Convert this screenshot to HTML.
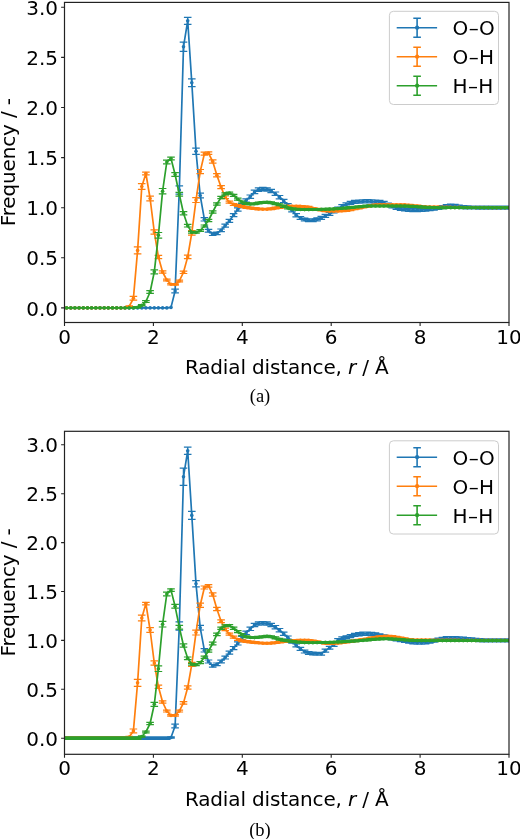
<!DOCTYPE html>
<html><head><meta charset="utf-8"><title>Radial distribution functions</title>
<style>
html,body{margin:0;padding:0;background:#fff;}
svg{display:block;}
</style></head>
<body>
<svg width="520" height="839" viewBox="0 0 520 839" font-family="'DejaVu Sans', 'Liberation Sans', sans-serif" font-size="20" fill="#000">
<rect width="520" height="839" fill="#fff"/>
<clipPath id="clip2"><rect x="64.5" y="2.4" width="444.5" height="320.1"/></clipPath>
<g clip-path="url(#clip2)">
<polyline points="66.6,307.9 70.8,307.9 74.9,307.9 79.1,307.9 83.3,307.9 87.5,307.9 91.6,307.9 95.8,307.9 100.0,307.9 104.2,307.9 108.3,307.9 112.5,307.9 116.7,307.9 120.9,307.9 125.0,307.9 129.2,307.9 133.4,307.9 137.6,307.9 141.8,307.9 145.9,307.9 150.1,307.9 154.3,307.9 158.4,307.9 162.6,307.9 166.8,307.9 171.0,307.4 175.1,291.0 179.3,190.0 183.5,46.7 187.7,20.8 191.8,82.7 196.0,151.3 200.2,195.5 204.4,219.3 208.5,230.7 212.7,234.2 216.9,233.3 221.1,230.3 225.2,225.6 229.4,220.8 233.6,215.1 237.8,209.5 241.9,204.9 246.1,200.5 250.3,196.6 254.5,192.0 258.6,189.6 262.8,189.0 267.0,189.5 271.2,190.9 275.4,193.7 279.5,197.2 283.7,200.9 287.9,205.2 292.0,210.2 296.2,215.2 300.4,217.9 304.6,219.4 308.8,220.3 312.9,220.2 317.1,219.3 321.3,217.9 325.4,215.9 329.6,213.9 333.8,211.4 338.0,208.6 342.1,206.3 346.3,204.5 350.5,203.0 354.7,201.9 358.9,201.6 363.0,201.4 367.2,201.3 371.4,201.4 375.5,201.6 379.7,201.9 383.9,203.0 388.1,204.8 392.2,206.4 396.4,207.8 400.6,208.8 404.8,209.4 408.9,209.9 413.1,210.2 417.3,210.2 421.5,209.9 425.6,209.6 429.8,209.1 434.0,208.6 438.2,208.0 442.4,207.1 446.5,206.2 450.7,205.6 454.9,205.8 459.0,206.5 463.2,207.2 467.4,207.4 471.6,207.5 475.8,207.5 479.9,207.6 484.1,207.6 488.3,207.6 492.4,207.7 496.6,207.7 500.8,207.7 505.0,207.7 509.1,207.7" fill="none" stroke="#1f77b4" stroke-width="1.7" stroke-linejoin="round"/>
<path d="M175.1 289.1V292.9M179.3 185.9V194.1M183.5 42.1V51.3M187.7 17.3V24.3M191.8 78.8V86.6M196.0 148.2V154.4M200.2 193.2V197.8M204.4 217.6V221.0M208.5 229.3V232.1M212.7 232.9V235.5M216.9 232.0V234.6M221.1 229.0V231.7M225.2 224.2V227.1M229.4 219.3V222.3M233.6 213.6V216.7M237.8 207.9V211.1M241.9 203.3V206.6M246.1 198.9V202.2M250.3 195.0V198.3M254.5 190.2V193.7M258.6 187.9V191.3M262.8 187.3V190.7M267.0 187.8V191.1M271.2 189.3V192.6M275.4 192.0V195.3M279.5 195.5V198.9M283.7 199.3V202.6M287.9 203.6V206.8M292.0 208.6V211.8M296.2 213.7V216.8M300.4 216.5V219.4M304.6 218.0V220.8M308.8 218.9V221.7M312.9 218.8V221.6M317.1 217.9V220.8M321.3 216.4V219.3M325.4 214.4V217.4M329.6 212.4V215.4M333.8 209.9V213.0M338.0 207.1V210.2M342.1 204.7V207.8M346.3 202.9V206.0M350.5 201.4V204.5M354.7 200.3V203.5M358.9 200.0V203.1M363.0 199.8V202.9M367.2 199.7V202.9M371.4 199.8V202.9M375.5 200.0V203.1M379.7 200.3V203.5M383.9 201.4V204.6M388.1 203.2V206.3M392.2 204.8V207.9M396.4 206.3V209.3M400.6 207.3V210.3M404.8 207.9V210.9M408.9 208.4V211.4M413.1 208.7V211.6M417.3 208.7V211.6M421.5 208.5V211.4M425.6 208.1V211.1M429.8 207.6V210.6M434.0 207.1V210.1M438.2 206.5V209.5M442.4 205.5V208.6M446.5 204.6V207.7M450.7 204.1V207.2M454.9 204.3V207.3M459.0 205.0V208.0M463.2 205.7V208.7M467.4 205.9V208.9M471.6 206.0V209.0M475.8 206.0V209.0M479.9 206.1V209.1M484.1 206.1V209.1M488.3 206.1V209.1M492.4 206.2V209.2M496.6 206.2V209.2M500.8 206.2V209.2M505.0 206.2V209.2M509.1 206.2V209.2" stroke="#1f77b4" stroke-width="1.5" fill="none"/>
<path d="M171.3 289.1h7.6M171.3 292.9h7.6M175.5 185.9h7.6M175.5 194.1h7.6M179.7 42.1h7.6M179.7 51.3h7.6M183.9 17.3h7.6M183.9 24.3h7.6M188.0 78.8h7.6M188.0 86.6h7.6M192.2 148.2h7.6M192.2 154.4h7.6M196.4 193.2h7.6M196.4 197.8h7.6M200.6 217.6h7.6M200.6 221.0h7.6M204.7 229.3h7.6M204.7 232.1h7.6M208.9 232.9h7.6M208.9 235.5h7.6M213.1 232.0h7.6M213.1 234.6h7.6M217.3 229.0h7.6M217.3 231.7h7.6M221.4 224.2h7.6M221.4 227.1h7.6M225.6 219.3h7.6M225.6 222.3h7.6M229.8 213.6h7.6M229.8 216.7h7.6M234.0 207.9h7.6M234.0 211.1h7.6M238.1 203.3h7.6M238.1 206.6h7.6M242.3 198.9h7.6M242.3 202.2h7.6M246.5 195.0h7.6M246.5 198.3h7.6M250.7 190.2h7.6M250.7 193.7h7.6M254.8 187.9h7.6M254.8 191.3h7.6M259.0 187.3h7.6M259.0 190.7h7.6M263.2 187.8h7.6M263.2 191.1h7.6M267.4 189.3h7.6M267.4 192.6h7.6M271.6 192.0h7.6M271.6 195.3h7.6M275.7 195.5h7.6M275.7 198.9h7.6M279.9 199.3h7.6M279.9 202.6h7.6M284.1 203.6h7.6M284.1 206.8h7.6M288.2 208.6h7.6M288.2 211.8h7.6M292.4 213.7h7.6M292.4 216.8h7.6M296.6 216.5h7.6M296.6 219.4h7.6M300.8 218.0h7.6M300.8 220.8h7.6M304.9 218.9h7.6M304.9 221.7h7.6M309.1 218.8h7.6M309.1 221.6h7.6M313.3 217.9h7.6M313.3 220.8h7.6M317.5 216.4h7.6M317.5 219.3h7.6M321.6 214.4h7.6M321.6 217.4h7.6M325.8 212.4h7.6M325.8 215.4h7.6M330.0 209.9h7.6M330.0 213.0h7.6M334.2 207.1h7.6M334.2 210.2h7.6M338.3 204.7h7.6M338.3 207.8h7.6M342.5 202.9h7.6M342.5 206.0h7.6M346.7 201.4h7.6M346.7 204.5h7.6M350.9 200.3h7.6M350.9 203.5h7.6M355.1 200.0h7.6M355.1 203.1h7.6M359.2 199.8h7.6M359.2 202.9h7.6M363.4 199.7h7.6M363.4 202.9h7.6M367.6 199.8h7.6M367.6 202.9h7.6M371.7 200.0h7.6M371.7 203.1h7.6M375.9 200.3h7.6M375.9 203.5h7.6M380.1 201.4h7.6M380.1 204.6h7.6M384.3 203.2h7.6M384.3 206.3h7.6M388.4 204.8h7.6M388.4 207.9h7.6M392.6 206.3h7.6M392.6 209.3h7.6M396.8 207.3h7.6M396.8 210.3h7.6M401.0 207.9h7.6M401.0 210.9h7.6M405.1 208.4h7.6M405.1 211.4h7.6M409.3 208.7h7.6M409.3 211.6h7.6M413.5 208.7h7.6M413.5 211.6h7.6M417.7 208.5h7.6M417.7 211.4h7.6M421.8 208.1h7.6M421.8 211.1h7.6M426.0 207.6h7.6M426.0 210.6h7.6M430.2 207.1h7.6M430.2 210.1h7.6M434.4 206.5h7.6M434.4 209.5h7.6M438.6 205.5h7.6M438.6 208.6h7.6M442.7 204.6h7.6M442.7 207.7h7.6M446.9 204.1h7.6M446.9 207.2h7.6M451.1 204.3h7.6M451.1 207.3h7.6M455.2 205.0h7.6M455.2 208.0h7.6M459.4 205.7h7.6M459.4 208.7h7.6M463.6 205.9h7.6M463.6 208.9h7.6M467.8 206.0h7.6M467.8 209.0h7.6M471.9 206.0h7.6M471.9 209.0h7.6M476.1 206.1h7.6M476.1 209.1h7.6M480.3 206.1h7.6M480.3 209.1h7.6M484.5 206.1h7.6M484.5 209.1h7.6M488.6 206.2h7.6M488.6 209.2h7.6M492.8 206.2h7.6M492.8 209.2h7.6M497.0 206.2h7.6M497.0 209.2h7.6M501.2 206.2h7.6M501.2 209.2h7.6M505.3 206.2h7.6M505.3 209.2h7.6" stroke="#1f77b4" stroke-width="1.2" fill="none"/>
<g fill="#1f77b4"><circle cx="66.6" cy="307.9" r="1.8"/><circle cx="70.8" cy="307.9" r="1.8"/><circle cx="74.9" cy="307.9" r="1.8"/><circle cx="79.1" cy="307.9" r="1.8"/><circle cx="83.3" cy="307.9" r="1.8"/><circle cx="87.5" cy="307.9" r="1.8"/><circle cx="91.6" cy="307.9" r="1.8"/><circle cx="95.8" cy="307.9" r="1.8"/><circle cx="100.0" cy="307.9" r="1.8"/><circle cx="104.2" cy="307.9" r="1.8"/><circle cx="108.3" cy="307.9" r="1.8"/><circle cx="112.5" cy="307.9" r="1.8"/><circle cx="116.7" cy="307.9" r="1.8"/><circle cx="120.9" cy="307.9" r="1.8"/><circle cx="125.0" cy="307.9" r="1.8"/><circle cx="129.2" cy="307.9" r="1.8"/><circle cx="133.4" cy="307.9" r="1.8"/><circle cx="137.6" cy="307.9" r="1.8"/><circle cx="141.8" cy="307.9" r="1.8"/><circle cx="145.9" cy="307.9" r="1.8"/><circle cx="150.1" cy="307.9" r="1.8"/><circle cx="154.3" cy="307.9" r="1.8"/><circle cx="158.4" cy="307.9" r="1.8"/><circle cx="162.6" cy="307.9" r="1.8"/><circle cx="166.8" cy="307.9" r="1.8"/><circle cx="171.0" cy="307.4" r="1.8"/><circle cx="175.1" cy="291.0" r="1.8"/><circle cx="179.3" cy="190.0" r="1.8"/><circle cx="183.5" cy="46.7" r="1.8"/><circle cx="187.7" cy="20.8" r="1.8"/><circle cx="191.8" cy="82.7" r="1.8"/><circle cx="196.0" cy="151.3" r="1.8"/><circle cx="200.2" cy="195.5" r="1.8"/><circle cx="204.4" cy="219.3" r="1.8"/><circle cx="208.5" cy="230.7" r="1.8"/><circle cx="212.7" cy="234.2" r="1.8"/><circle cx="216.9" cy="233.3" r="1.8"/><circle cx="221.1" cy="230.3" r="1.8"/><circle cx="225.2" cy="225.6" r="1.8"/><circle cx="229.4" cy="220.8" r="1.8"/><circle cx="233.6" cy="215.1" r="1.8"/><circle cx="237.8" cy="209.5" r="1.8"/><circle cx="241.9" cy="204.9" r="1.8"/><circle cx="246.1" cy="200.5" r="1.8"/><circle cx="250.3" cy="196.6" r="1.8"/><circle cx="254.5" cy="192.0" r="1.8"/><circle cx="258.6" cy="189.6" r="1.8"/><circle cx="262.8" cy="189.0" r="1.8"/><circle cx="267.0" cy="189.5" r="1.8"/><circle cx="271.2" cy="190.9" r="1.8"/><circle cx="275.4" cy="193.7" r="1.8"/><circle cx="279.5" cy="197.2" r="1.8"/><circle cx="283.7" cy="200.9" r="1.8"/><circle cx="287.9" cy="205.2" r="1.8"/><circle cx="292.0" cy="210.2" r="1.8"/><circle cx="296.2" cy="215.2" r="1.8"/><circle cx="300.4" cy="217.9" r="1.8"/><circle cx="304.6" cy="219.4" r="1.8"/><circle cx="308.8" cy="220.3" r="1.8"/><circle cx="312.9" cy="220.2" r="1.8"/><circle cx="317.1" cy="219.3" r="1.8"/><circle cx="321.3" cy="217.9" r="1.8"/><circle cx="325.4" cy="215.9" r="1.8"/><circle cx="329.6" cy="213.9" r="1.8"/><circle cx="333.8" cy="211.4" r="1.8"/><circle cx="338.0" cy="208.6" r="1.8"/><circle cx="342.1" cy="206.3" r="1.8"/><circle cx="346.3" cy="204.5" r="1.8"/><circle cx="350.5" cy="203.0" r="1.8"/><circle cx="354.7" cy="201.9" r="1.8"/><circle cx="358.9" cy="201.6" r="1.8"/><circle cx="363.0" cy="201.4" r="1.8"/><circle cx="367.2" cy="201.3" r="1.8"/><circle cx="371.4" cy="201.4" r="1.8"/><circle cx="375.5" cy="201.6" r="1.8"/><circle cx="379.7" cy="201.9" r="1.8"/><circle cx="383.9" cy="203.0" r="1.8"/><circle cx="388.1" cy="204.8" r="1.8"/><circle cx="392.2" cy="206.4" r="1.8"/><circle cx="396.4" cy="207.8" r="1.8"/><circle cx="400.6" cy="208.8" r="1.8"/><circle cx="404.8" cy="209.4" r="1.8"/><circle cx="408.9" cy="209.9" r="1.8"/><circle cx="413.1" cy="210.2" r="1.8"/><circle cx="417.3" cy="210.2" r="1.8"/><circle cx="421.5" cy="209.9" r="1.8"/><circle cx="425.6" cy="209.6" r="1.8"/><circle cx="429.8" cy="209.1" r="1.8"/><circle cx="434.0" cy="208.6" r="1.8"/><circle cx="438.2" cy="208.0" r="1.8"/><circle cx="442.4" cy="207.1" r="1.8"/><circle cx="446.5" cy="206.2" r="1.8"/><circle cx="450.7" cy="205.6" r="1.8"/><circle cx="454.9" cy="205.8" r="1.8"/><circle cx="459.0" cy="206.5" r="1.8"/><circle cx="463.2" cy="207.2" r="1.8"/><circle cx="467.4" cy="207.4" r="1.8"/><circle cx="471.6" cy="207.5" r="1.8"/><circle cx="475.8" cy="207.5" r="1.8"/><circle cx="479.9" cy="207.6" r="1.8"/><circle cx="484.1" cy="207.6" r="1.8"/><circle cx="488.3" cy="207.6" r="1.8"/><circle cx="492.4" cy="207.7" r="1.8"/><circle cx="496.6" cy="207.7" r="1.8"/><circle cx="500.8" cy="207.7" r="1.8"/><circle cx="505.0" cy="207.7" r="1.8"/><circle cx="509.1" cy="207.7" r="1.8"/></g>
<polyline points="66.6,307.9 70.8,307.9 74.9,307.9 79.1,307.9 83.3,307.9 87.5,307.9 91.6,307.9 95.8,307.9 100.0,307.9 104.2,307.9 108.3,307.9 112.5,307.9 116.7,307.9 120.9,307.9 125.0,307.9 129.2,306.5 133.4,298.3 137.6,250.4 141.8,186.5 145.9,173.5 150.1,198.5 154.3,232.0 158.4,257.0 162.6,272.0 166.8,280.0 171.0,284.3 175.1,284.5 179.3,281.0 183.5,272.3 187.7,256.9 191.8,232.9 196.0,200.1 200.2,171.6 204.4,153.7 208.5,153.1 212.7,161.5 216.9,175.2 221.1,187.1 225.2,197.3 229.4,202.2 233.6,204.4 237.8,205.6 241.9,206.5 246.1,207.4 250.3,208.0 254.5,208.5 258.6,208.9 262.8,209.2 267.0,209.2 271.2,208.8 275.4,208.1 279.5,207.4 283.7,206.7 287.9,206.3 292.0,206.2 296.2,206.3 300.4,206.4 304.6,206.7 308.8,207.3 312.9,208.4 317.1,209.3 321.3,210.0 325.4,210.7 329.6,211.1 333.8,211.2 338.0,211.0 342.1,210.8 346.3,210.5 350.5,209.8 354.7,208.8 358.9,207.9 363.0,207.2 367.2,206.4 371.4,205.6 375.5,205.0 379.7,204.8 383.9,204.8 388.1,204.8 392.2,204.8 396.4,204.8 400.6,204.8 404.8,204.9 408.9,205.2 413.1,205.6 417.3,206.1 421.5,206.5 425.6,206.8 429.8,207.0 434.0,207.1 438.2,207.1 442.4,207.2 446.5,207.3 450.7,207.3 454.9,207.4 459.0,207.4 463.2,207.5 467.4,207.5 471.6,207.5 475.8,207.6 479.9,207.6 484.1,207.6 488.3,207.6 492.4,207.7 496.6,207.7 500.8,207.7 505.0,207.7 509.1,207.7" fill="none" stroke="#ff7f0e" stroke-width="1.7" stroke-linejoin="round"/>
<path d="M129.2 305.8V307.2M133.4 296.4V300.2M137.6 246.9V253.9M141.8 183.7V189.3M145.9 172.2V174.8M150.1 196.2V200.8M154.3 229.8V234.2M158.4 255.3V258.7M162.6 270.8V273.2M166.8 279.1V280.9M171.0 283.6V285.0M175.1 283.8V285.2M179.3 280.1V281.9M183.5 271.1V273.5M187.7 255.2V258.6M191.8 230.7V235.1M196.0 197.7V202.5M200.2 169.5V173.7M204.4 152.2V155.2M208.5 151.9V154.3M212.7 159.9V163.1M216.9 173.6V176.8M221.1 185.6V188.6M225.2 196.0V198.6M229.4 201.2V203.2M233.6 203.5V205.4M237.8 204.7V206.5M241.9 205.6V207.4M246.1 206.5V208.3M250.3 207.2V208.9M254.5 207.6V209.4M258.6 208.0V209.8M262.8 208.3V210.0M267.0 208.3V210.0M271.2 207.9V209.7M275.4 207.2V209.0M279.5 206.5V208.3M283.7 205.8V207.6M287.9 205.4V207.1M292.0 205.4V207.1M296.2 205.4V207.2M300.4 205.6V207.3M304.6 205.8V207.5M308.8 206.4V208.2M312.9 207.5V209.3M317.1 208.4V210.2M321.3 209.1V210.9M325.4 209.8V211.6M329.6 210.3V212.0M333.8 210.3V212.0M338.0 210.2V211.9M342.1 209.9V211.6M346.3 209.6V211.3M350.5 208.9V210.7M354.7 207.9V209.7M358.9 207.0V208.8M363.0 206.3V208.0M367.2 205.5V207.2M371.4 204.7V206.5M375.5 204.2V205.9M379.7 203.9V205.7M383.9 203.9V205.7M388.1 203.9V205.7M392.2 203.9V205.7M396.4 203.9V205.7M400.6 203.9V205.7M404.8 204.1V205.8M408.9 204.4V206.1M413.1 204.8V206.5M417.3 205.2V207.0M421.5 205.6V207.4M425.6 206.0V207.7M429.8 206.1V207.9M434.0 206.2V207.9M438.2 206.3V208.0M442.4 206.3V208.1M446.5 206.4V208.1M450.7 206.5V208.2M454.9 206.5V208.2M459.0 206.6V208.3M463.2 206.6V208.3M467.4 206.7V208.4M471.6 206.7V208.4M475.8 206.7V208.4M479.9 206.8V208.5M484.1 206.8V208.5M488.3 206.8V208.5M492.4 206.8V208.5M496.6 206.8V208.5M500.8 206.8V208.5M505.0 206.8V208.5M509.1 206.8V208.5" stroke="#ff7f0e" stroke-width="1.5" fill="none"/>
<path d="M125.4 305.8h7.6M125.4 307.2h7.6M129.6 296.4h7.6M129.6 300.2h7.6M133.8 246.9h7.6M133.8 253.9h7.6M137.9 183.7h7.6M137.9 189.3h7.6M142.1 172.2h7.6M142.1 174.8h7.6M146.3 196.2h7.6M146.3 200.8h7.6M150.5 229.8h7.6M150.5 234.2h7.6M154.6 255.3h7.6M154.6 258.7h7.6M158.8 270.8h7.6M158.8 273.2h7.6M163.0 279.1h7.6M163.0 280.9h7.6M167.2 283.6h7.6M167.2 285.0h7.6M171.3 283.8h7.6M171.3 285.2h7.6M175.5 280.1h7.6M175.5 281.9h7.6M179.7 271.1h7.6M179.7 273.5h7.6M183.9 255.2h7.6M183.9 258.6h7.6M188.0 230.7h7.6M188.0 235.1h7.6M192.2 197.7h7.6M192.2 202.5h7.6M196.4 169.5h7.6M196.4 173.7h7.6M200.6 152.2h7.6M200.6 155.2h7.6M204.7 151.9h7.6M204.7 154.3h7.6M208.9 159.9h7.6M208.9 163.1h7.6M213.1 173.6h7.6M213.1 176.8h7.6M217.3 185.6h7.6M217.3 188.6h7.6M221.4 196.0h7.6M221.4 198.6h7.6M225.6 201.2h7.6M225.6 203.2h7.6M229.8 203.5h7.6M229.8 205.4h7.6M234.0 204.7h7.6M234.0 206.5h7.6M238.1 205.6h7.6M238.1 207.4h7.6M242.3 206.5h7.6M242.3 208.3h7.6M246.5 207.2h7.6M246.5 208.9h7.6M250.7 207.6h7.6M250.7 209.4h7.6M254.8 208.0h7.6M254.8 209.8h7.6M259.0 208.3h7.6M259.0 210.0h7.6M263.2 208.3h7.6M263.2 210.0h7.6M267.4 207.9h7.6M267.4 209.7h7.6M271.6 207.2h7.6M271.6 209.0h7.6M275.7 206.5h7.6M275.7 208.3h7.6M279.9 205.8h7.6M279.9 207.6h7.6M284.1 205.4h7.6M284.1 207.1h7.6M288.2 205.4h7.6M288.2 207.1h7.6M292.4 205.4h7.6M292.4 207.2h7.6M296.6 205.6h7.6M296.6 207.3h7.6M300.8 205.8h7.6M300.8 207.5h7.6M304.9 206.4h7.6M304.9 208.2h7.6M309.1 207.5h7.6M309.1 209.3h7.6M313.3 208.4h7.6M313.3 210.2h7.6M317.5 209.1h7.6M317.5 210.9h7.6M321.6 209.8h7.6M321.6 211.6h7.6M325.8 210.3h7.6M325.8 212.0h7.6M330.0 210.3h7.6M330.0 212.0h7.6M334.2 210.2h7.6M334.2 211.9h7.6M338.3 209.9h7.6M338.3 211.6h7.6M342.5 209.6h7.6M342.5 211.3h7.6M346.7 208.9h7.6M346.7 210.7h7.6M350.9 207.9h7.6M350.9 209.7h7.6M355.1 207.0h7.6M355.1 208.8h7.6M359.2 206.3h7.6M359.2 208.0h7.6M363.4 205.5h7.6M363.4 207.2h7.6M367.6 204.7h7.6M367.6 206.5h7.6M371.7 204.2h7.6M371.7 205.9h7.6M375.9 203.9h7.6M375.9 205.7h7.6M380.1 203.9h7.6M380.1 205.7h7.6M384.3 203.9h7.6M384.3 205.7h7.6M388.4 203.9h7.6M388.4 205.7h7.6M392.6 203.9h7.6M392.6 205.7h7.6M396.8 203.9h7.6M396.8 205.7h7.6M401.0 204.1h7.6M401.0 205.8h7.6M405.1 204.4h7.6M405.1 206.1h7.6M409.3 204.8h7.6M409.3 206.5h7.6M413.5 205.2h7.6M413.5 207.0h7.6M417.7 205.6h7.6M417.7 207.4h7.6M421.8 206.0h7.6M421.8 207.7h7.6M426.0 206.1h7.6M426.0 207.9h7.6M430.2 206.2h7.6M430.2 207.9h7.6M434.4 206.3h7.6M434.4 208.0h7.6M438.6 206.3h7.6M438.6 208.1h7.6M442.7 206.4h7.6M442.7 208.1h7.6M446.9 206.5h7.6M446.9 208.2h7.6M451.1 206.5h7.6M451.1 208.2h7.6M455.2 206.6h7.6M455.2 208.3h7.6M459.4 206.6h7.6M459.4 208.3h7.6M463.6 206.7h7.6M463.6 208.4h7.6M467.8 206.7h7.6M467.8 208.4h7.6M471.9 206.7h7.6M471.9 208.4h7.6M476.1 206.8h7.6M476.1 208.5h7.6M480.3 206.8h7.6M480.3 208.5h7.6M484.5 206.8h7.6M484.5 208.5h7.6M488.6 206.8h7.6M488.6 208.5h7.6M492.8 206.8h7.6M492.8 208.5h7.6M497.0 206.8h7.6M497.0 208.5h7.6M501.2 206.8h7.6M501.2 208.5h7.6M505.3 206.8h7.6M505.3 208.5h7.6" stroke="#ff7f0e" stroke-width="1.2" fill="none"/>
<g fill="#ff7f0e"><circle cx="66.6" cy="307.9" r="1.8"/><circle cx="70.8" cy="307.9" r="1.8"/><circle cx="74.9" cy="307.9" r="1.8"/><circle cx="79.1" cy="307.9" r="1.8"/><circle cx="83.3" cy="307.9" r="1.8"/><circle cx="87.5" cy="307.9" r="1.8"/><circle cx="91.6" cy="307.9" r="1.8"/><circle cx="95.8" cy="307.9" r="1.8"/><circle cx="100.0" cy="307.9" r="1.8"/><circle cx="104.2" cy="307.9" r="1.8"/><circle cx="108.3" cy="307.9" r="1.8"/><circle cx="112.5" cy="307.9" r="1.8"/><circle cx="116.7" cy="307.9" r="1.8"/><circle cx="120.9" cy="307.9" r="1.8"/><circle cx="125.0" cy="307.9" r="1.8"/><circle cx="129.2" cy="306.5" r="1.8"/><circle cx="133.4" cy="298.3" r="1.8"/><circle cx="137.6" cy="250.4" r="1.8"/><circle cx="141.8" cy="186.5" r="1.8"/><circle cx="145.9" cy="173.5" r="1.8"/><circle cx="150.1" cy="198.5" r="1.8"/><circle cx="154.3" cy="232.0" r="1.8"/><circle cx="158.4" cy="257.0" r="1.8"/><circle cx="162.6" cy="272.0" r="1.8"/><circle cx="166.8" cy="280.0" r="1.8"/><circle cx="171.0" cy="284.3" r="1.8"/><circle cx="175.1" cy="284.5" r="1.8"/><circle cx="179.3" cy="281.0" r="1.8"/><circle cx="183.5" cy="272.3" r="1.8"/><circle cx="187.7" cy="256.9" r="1.8"/><circle cx="191.8" cy="232.9" r="1.8"/><circle cx="196.0" cy="200.1" r="1.8"/><circle cx="200.2" cy="171.6" r="1.8"/><circle cx="204.4" cy="153.7" r="1.8"/><circle cx="208.5" cy="153.1" r="1.8"/><circle cx="212.7" cy="161.5" r="1.8"/><circle cx="216.9" cy="175.2" r="1.8"/><circle cx="221.1" cy="187.1" r="1.8"/><circle cx="225.2" cy="197.3" r="1.8"/><circle cx="229.4" cy="202.2" r="1.8"/><circle cx="233.6" cy="204.4" r="1.8"/><circle cx="237.8" cy="205.6" r="1.8"/><circle cx="241.9" cy="206.5" r="1.8"/><circle cx="246.1" cy="207.4" r="1.8"/><circle cx="250.3" cy="208.0" r="1.8"/><circle cx="254.5" cy="208.5" r="1.8"/><circle cx="258.6" cy="208.9" r="1.8"/><circle cx="262.8" cy="209.2" r="1.8"/><circle cx="267.0" cy="209.2" r="1.8"/><circle cx="271.2" cy="208.8" r="1.8"/><circle cx="275.4" cy="208.1" r="1.8"/><circle cx="279.5" cy="207.4" r="1.8"/><circle cx="283.7" cy="206.7" r="1.8"/><circle cx="287.9" cy="206.3" r="1.8"/><circle cx="292.0" cy="206.2" r="1.8"/><circle cx="296.2" cy="206.3" r="1.8"/><circle cx="300.4" cy="206.4" r="1.8"/><circle cx="304.6" cy="206.7" r="1.8"/><circle cx="308.8" cy="207.3" r="1.8"/><circle cx="312.9" cy="208.4" r="1.8"/><circle cx="317.1" cy="209.3" r="1.8"/><circle cx="321.3" cy="210.0" r="1.8"/><circle cx="325.4" cy="210.7" r="1.8"/><circle cx="329.6" cy="211.1" r="1.8"/><circle cx="333.8" cy="211.2" r="1.8"/><circle cx="338.0" cy="211.0" r="1.8"/><circle cx="342.1" cy="210.8" r="1.8"/><circle cx="346.3" cy="210.5" r="1.8"/><circle cx="350.5" cy="209.8" r="1.8"/><circle cx="354.7" cy="208.8" r="1.8"/><circle cx="358.9" cy="207.9" r="1.8"/><circle cx="363.0" cy="207.2" r="1.8"/><circle cx="367.2" cy="206.4" r="1.8"/><circle cx="371.4" cy="205.6" r="1.8"/><circle cx="375.5" cy="205.0" r="1.8"/><circle cx="379.7" cy="204.8" r="1.8"/><circle cx="383.9" cy="204.8" r="1.8"/><circle cx="388.1" cy="204.8" r="1.8"/><circle cx="392.2" cy="204.8" r="1.8"/><circle cx="396.4" cy="204.8" r="1.8"/><circle cx="400.6" cy="204.8" r="1.8"/><circle cx="404.8" cy="204.9" r="1.8"/><circle cx="408.9" cy="205.2" r="1.8"/><circle cx="413.1" cy="205.6" r="1.8"/><circle cx="417.3" cy="206.1" r="1.8"/><circle cx="421.5" cy="206.5" r="1.8"/><circle cx="425.6" cy="206.8" r="1.8"/><circle cx="429.8" cy="207.0" r="1.8"/><circle cx="434.0" cy="207.1" r="1.8"/><circle cx="438.2" cy="207.1" r="1.8"/><circle cx="442.4" cy="207.2" r="1.8"/><circle cx="446.5" cy="207.3" r="1.8"/><circle cx="450.7" cy="207.3" r="1.8"/><circle cx="454.9" cy="207.4" r="1.8"/><circle cx="459.0" cy="207.4" r="1.8"/><circle cx="463.2" cy="207.5" r="1.8"/><circle cx="467.4" cy="207.5" r="1.8"/><circle cx="471.6" cy="207.5" r="1.8"/><circle cx="475.8" cy="207.6" r="1.8"/><circle cx="479.9" cy="207.6" r="1.8"/><circle cx="484.1" cy="207.6" r="1.8"/><circle cx="488.3" cy="207.6" r="1.8"/><circle cx="492.4" cy="207.7" r="1.8"/><circle cx="496.6" cy="207.7" r="1.8"/><circle cx="500.8" cy="207.7" r="1.8"/><circle cx="505.0" cy="207.7" r="1.8"/><circle cx="509.1" cy="207.7" r="1.8"/></g>
<polyline points="66.6,307.9 70.8,307.9 74.9,307.9 79.1,307.9 83.3,307.9 87.5,307.9 91.6,307.9 95.8,307.9 100.0,307.9 104.2,307.9 108.3,307.9 112.5,307.9 116.7,307.9 120.9,307.9 125.0,307.9 129.2,307.9 133.4,307.9 137.6,307.2 141.8,305.3 145.9,301.6 150.1,292.0 154.3,271.8 158.4,235.3 162.6,191.2 166.8,162.0 171.0,158.5 175.1,174.5 179.3,194.2 183.5,213.2 187.7,225.7 191.8,232.3 196.0,232.4 200.2,230.5 204.4,226.0 208.5,220.5 212.7,212.0 216.9,204.0 221.1,197.5 225.2,193.8 229.4,193.0 233.6,195.3 237.8,199.2 241.9,202.0 246.1,203.4 250.3,204.0 254.5,203.7 258.6,203.1 262.8,202.5 267.0,202.3 271.2,202.8 275.4,203.7 279.5,204.7 283.7,206.3 287.9,207.9 292.0,208.7 296.2,209.2 300.4,209.5 304.6,209.6 308.8,209.6 312.9,209.5 317.1,209.5 321.3,209.4 325.4,209.3 329.6,209.1 333.8,208.9 338.0,208.6 342.1,208.3 346.3,208.0 350.5,207.5 354.7,207.2 358.9,206.7 363.0,206.3 367.2,206.1 371.4,206.0 375.5,206.0 379.7,206.0 383.9,206.0 388.1,206.0 392.2,206.0 396.4,206.0 400.6,206.0 404.8,206.1 408.9,206.2 413.1,206.4 417.3,206.7 421.5,206.9 425.6,207.2 429.8,207.4 434.0,207.6 438.2,207.7 442.4,207.7 446.5,207.7 450.7,207.7 454.9,207.7 459.0,207.7 463.2,207.7 467.4,207.7 471.6,207.7 475.8,207.7 479.9,207.7 484.1,207.7 488.3,207.7 492.4,207.7 496.6,207.7 500.8,207.7 505.0,207.7 509.1,207.7" fill="none" stroke="#2ca02c" stroke-width="1.7" stroke-linejoin="round"/>
<path d="M137.6 306.6V307.8M141.8 304.7V305.9M145.9 300.7V302.5M150.1 290.7V293.3M154.3 269.8V273.8M158.4 232.5V238.1M162.6 188.5V193.9M166.8 160.2V163.8M171.0 157.2V159.8M175.1 172.6V176.4M179.3 192.3V196.1M183.5 211.6V214.8M187.7 224.4V227.0M191.8 231.4V233.2M196.0 231.6V233.2M200.2 229.6V231.4M204.4 225.0V227.0M208.5 219.3V221.7M212.7 210.8V213.2M216.9 202.8V205.2M221.1 196.4V198.6M225.2 192.8V194.8M229.4 192.1V193.9M233.6 194.3V196.3M237.8 198.2V200.2M241.9 201.0V203.0M246.1 202.5V204.3M250.3 203.1V204.9M254.5 202.8V204.6M258.6 202.2V204.0M262.8 201.6V203.4M267.0 201.4V203.2M271.2 201.9V203.7M275.4 202.8V204.6M279.5 203.8V205.7M283.7 205.4V207.3M287.9 207.0V208.8M292.0 207.8V209.6M296.2 208.3V210.1M300.4 208.7V210.4M304.6 208.8V210.4M308.8 208.7V210.4M312.9 208.7V210.4M317.1 208.6V210.3M321.3 208.5V210.2M325.4 208.4V210.1M329.6 208.2V209.9M333.8 208.0V209.7M338.0 207.8V209.5M342.1 207.5V209.2M346.3 207.1V208.8M350.5 206.7V208.4M354.7 206.3V208.0M358.9 205.8V207.6M363.0 205.5V207.2M367.2 205.2V206.9M371.4 205.1V206.9M375.5 205.1V206.9M379.7 205.1V206.9M383.9 205.1V206.9M388.1 205.1V206.9M392.2 205.1V206.9M396.4 205.1V206.9M400.6 205.1V206.9M404.8 205.2V206.9M408.9 205.4V207.1M413.1 205.6V207.3M417.3 205.8V207.5M421.5 206.1V207.8M425.6 206.3V208.1M429.8 206.6V208.3M434.0 206.7V208.5M438.2 206.8V208.5M442.4 206.8V208.6M446.5 206.8V208.5M450.7 206.8V208.5M454.9 206.8V208.5M459.0 206.8V208.5M463.2 206.8V208.5M467.4 206.8V208.5M471.6 206.8V208.5M475.8 206.8V208.5M479.9 206.8V208.5M484.1 206.8V208.5M488.3 206.8V208.5M492.4 206.8V208.5M496.6 206.8V208.5M500.8 206.8V208.5M505.0 206.8V208.5M509.1 206.8V208.5" stroke="#2ca02c" stroke-width="1.5" fill="none"/>
<path d="M133.8 306.6h7.6M133.8 307.8h7.6M137.9 304.7h7.6M137.9 305.9h7.6M142.1 300.7h7.6M142.1 302.5h7.6M146.3 290.7h7.6M146.3 293.3h7.6M150.5 269.8h7.6M150.5 273.8h7.6M154.6 232.5h7.6M154.6 238.1h7.6M158.8 188.5h7.6M158.8 193.9h7.6M163.0 160.2h7.6M163.0 163.8h7.6M167.2 157.2h7.6M167.2 159.8h7.6M171.3 172.6h7.6M171.3 176.4h7.6M175.5 192.3h7.6M175.5 196.1h7.6M179.7 211.6h7.6M179.7 214.8h7.6M183.9 224.4h7.6M183.9 227.0h7.6M188.0 231.4h7.6M188.0 233.2h7.6M192.2 231.6h7.6M192.2 233.2h7.6M196.4 229.6h7.6M196.4 231.4h7.6M200.6 225.0h7.6M200.6 227.0h7.6M204.7 219.3h7.6M204.7 221.7h7.6M208.9 210.8h7.6M208.9 213.2h7.6M213.1 202.8h7.6M213.1 205.2h7.6M217.3 196.4h7.6M217.3 198.6h7.6M221.4 192.8h7.6M221.4 194.8h7.6M225.6 192.1h7.6M225.6 193.9h7.6M229.8 194.3h7.6M229.8 196.3h7.6M234.0 198.2h7.6M234.0 200.2h7.6M238.1 201.0h7.6M238.1 203.0h7.6M242.3 202.5h7.6M242.3 204.3h7.6M246.5 203.1h7.6M246.5 204.9h7.6M250.7 202.8h7.6M250.7 204.6h7.6M254.8 202.2h7.6M254.8 204.0h7.6M259.0 201.6h7.6M259.0 203.4h7.6M263.2 201.4h7.6M263.2 203.2h7.6M267.4 201.9h7.6M267.4 203.7h7.6M271.6 202.8h7.6M271.6 204.6h7.6M275.7 203.8h7.6M275.7 205.7h7.6M279.9 205.4h7.6M279.9 207.3h7.6M284.1 207.0h7.6M284.1 208.8h7.6M288.2 207.8h7.6M288.2 209.6h7.6M292.4 208.3h7.6M292.4 210.1h7.6M296.6 208.7h7.6M296.6 210.4h7.6M300.8 208.8h7.6M300.8 210.4h7.6M304.9 208.7h7.6M304.9 210.4h7.6M309.1 208.7h7.6M309.1 210.4h7.6M313.3 208.6h7.6M313.3 210.3h7.6M317.5 208.5h7.6M317.5 210.2h7.6M321.6 208.4h7.6M321.6 210.1h7.6M325.8 208.2h7.6M325.8 209.9h7.6M330.0 208.0h7.6M330.0 209.7h7.6M334.2 207.8h7.6M334.2 209.5h7.6M338.3 207.5h7.6M338.3 209.2h7.6M342.5 207.1h7.6M342.5 208.8h7.6M346.7 206.7h7.6M346.7 208.4h7.6M350.9 206.3h7.6M350.9 208.0h7.6M355.1 205.8h7.6M355.1 207.6h7.6M359.2 205.5h7.6M359.2 207.2h7.6M363.4 205.2h7.6M363.4 206.9h7.6M367.6 205.1h7.6M367.6 206.9h7.6M371.7 205.1h7.6M371.7 206.9h7.6M375.9 205.1h7.6M375.9 206.9h7.6M380.1 205.1h7.6M380.1 206.9h7.6M384.3 205.1h7.6M384.3 206.9h7.6M388.4 205.1h7.6M388.4 206.9h7.6M392.6 205.1h7.6M392.6 206.9h7.6M396.8 205.1h7.6M396.8 206.9h7.6M401.0 205.2h7.6M401.0 206.9h7.6M405.1 205.4h7.6M405.1 207.1h7.6M409.3 205.6h7.6M409.3 207.3h7.6M413.5 205.8h7.6M413.5 207.5h7.6M417.7 206.1h7.6M417.7 207.8h7.6M421.8 206.3h7.6M421.8 208.1h7.6M426.0 206.6h7.6M426.0 208.3h7.6M430.2 206.7h7.6M430.2 208.5h7.6M434.4 206.8h7.6M434.4 208.5h7.6M438.6 206.8h7.6M438.6 208.6h7.6M442.7 206.8h7.6M442.7 208.5h7.6M446.9 206.8h7.6M446.9 208.5h7.6M451.1 206.8h7.6M451.1 208.5h7.6M455.2 206.8h7.6M455.2 208.5h7.6M459.4 206.8h7.6M459.4 208.5h7.6M463.6 206.8h7.6M463.6 208.5h7.6M467.8 206.8h7.6M467.8 208.5h7.6M471.9 206.8h7.6M471.9 208.5h7.6M476.1 206.8h7.6M476.1 208.5h7.6M480.3 206.8h7.6M480.3 208.5h7.6M484.5 206.8h7.6M484.5 208.5h7.6M488.6 206.8h7.6M488.6 208.5h7.6M492.8 206.8h7.6M492.8 208.5h7.6M497.0 206.8h7.6M497.0 208.5h7.6M501.2 206.8h7.6M501.2 208.5h7.6M505.3 206.8h7.6M505.3 208.5h7.6" stroke="#2ca02c" stroke-width="1.2" fill="none"/>
<g fill="#2ca02c"><circle cx="66.6" cy="307.9" r="1.8"/><circle cx="70.8" cy="307.9" r="1.8"/><circle cx="74.9" cy="307.9" r="1.8"/><circle cx="79.1" cy="307.9" r="1.8"/><circle cx="83.3" cy="307.9" r="1.8"/><circle cx="87.5" cy="307.9" r="1.8"/><circle cx="91.6" cy="307.9" r="1.8"/><circle cx="95.8" cy="307.9" r="1.8"/><circle cx="100.0" cy="307.9" r="1.8"/><circle cx="104.2" cy="307.9" r="1.8"/><circle cx="108.3" cy="307.9" r="1.8"/><circle cx="112.5" cy="307.9" r="1.8"/><circle cx="116.7" cy="307.9" r="1.8"/><circle cx="120.9" cy="307.9" r="1.8"/><circle cx="125.0" cy="307.9" r="1.8"/><circle cx="129.2" cy="307.9" r="1.8"/><circle cx="133.4" cy="307.9" r="1.8"/><circle cx="137.6" cy="307.2" r="1.8"/><circle cx="141.8" cy="305.3" r="1.8"/><circle cx="145.9" cy="301.6" r="1.8"/><circle cx="150.1" cy="292.0" r="1.8"/><circle cx="154.3" cy="271.8" r="1.8"/><circle cx="158.4" cy="235.3" r="1.8"/><circle cx="162.6" cy="191.2" r="1.8"/><circle cx="166.8" cy="162.0" r="1.8"/><circle cx="171.0" cy="158.5" r="1.8"/><circle cx="175.1" cy="174.5" r="1.8"/><circle cx="179.3" cy="194.2" r="1.8"/><circle cx="183.5" cy="213.2" r="1.8"/><circle cx="187.7" cy="225.7" r="1.8"/><circle cx="191.8" cy="232.3" r="1.8"/><circle cx="196.0" cy="232.4" r="1.8"/><circle cx="200.2" cy="230.5" r="1.8"/><circle cx="204.4" cy="226.0" r="1.8"/><circle cx="208.5" cy="220.5" r="1.8"/><circle cx="212.7" cy="212.0" r="1.8"/><circle cx="216.9" cy="204.0" r="1.8"/><circle cx="221.1" cy="197.5" r="1.8"/><circle cx="225.2" cy="193.8" r="1.8"/><circle cx="229.4" cy="193.0" r="1.8"/><circle cx="233.6" cy="195.3" r="1.8"/><circle cx="237.8" cy="199.2" r="1.8"/><circle cx="241.9" cy="202.0" r="1.8"/><circle cx="246.1" cy="203.4" r="1.8"/><circle cx="250.3" cy="204.0" r="1.8"/><circle cx="254.5" cy="203.7" r="1.8"/><circle cx="258.6" cy="203.1" r="1.8"/><circle cx="262.8" cy="202.5" r="1.8"/><circle cx="267.0" cy="202.3" r="1.8"/><circle cx="271.2" cy="202.8" r="1.8"/><circle cx="275.4" cy="203.7" r="1.8"/><circle cx="279.5" cy="204.7" r="1.8"/><circle cx="283.7" cy="206.3" r="1.8"/><circle cx="287.9" cy="207.9" r="1.8"/><circle cx="292.0" cy="208.7" r="1.8"/><circle cx="296.2" cy="209.2" r="1.8"/><circle cx="300.4" cy="209.5" r="1.8"/><circle cx="304.6" cy="209.6" r="1.8"/><circle cx="308.8" cy="209.6" r="1.8"/><circle cx="312.9" cy="209.5" r="1.8"/><circle cx="317.1" cy="209.5" r="1.8"/><circle cx="321.3" cy="209.4" r="1.8"/><circle cx="325.4" cy="209.3" r="1.8"/><circle cx="329.6" cy="209.1" r="1.8"/><circle cx="333.8" cy="208.9" r="1.8"/><circle cx="338.0" cy="208.6" r="1.8"/><circle cx="342.1" cy="208.3" r="1.8"/><circle cx="346.3" cy="208.0" r="1.8"/><circle cx="350.5" cy="207.5" r="1.8"/><circle cx="354.7" cy="207.2" r="1.8"/><circle cx="358.9" cy="206.7" r="1.8"/><circle cx="363.0" cy="206.3" r="1.8"/><circle cx="367.2" cy="206.1" r="1.8"/><circle cx="371.4" cy="206.0" r="1.8"/><circle cx="375.5" cy="206.0" r="1.8"/><circle cx="379.7" cy="206.0" r="1.8"/><circle cx="383.9" cy="206.0" r="1.8"/><circle cx="388.1" cy="206.0" r="1.8"/><circle cx="392.2" cy="206.0" r="1.8"/><circle cx="396.4" cy="206.0" r="1.8"/><circle cx="400.6" cy="206.0" r="1.8"/><circle cx="404.8" cy="206.1" r="1.8"/><circle cx="408.9" cy="206.2" r="1.8"/><circle cx="413.1" cy="206.4" r="1.8"/><circle cx="417.3" cy="206.7" r="1.8"/><circle cx="421.5" cy="206.9" r="1.8"/><circle cx="425.6" cy="207.2" r="1.8"/><circle cx="429.8" cy="207.4" r="1.8"/><circle cx="434.0" cy="207.6" r="1.8"/><circle cx="438.2" cy="207.7" r="1.8"/><circle cx="442.4" cy="207.7" r="1.8"/><circle cx="446.5" cy="207.7" r="1.8"/><circle cx="450.7" cy="207.7" r="1.8"/><circle cx="454.9" cy="207.7" r="1.8"/><circle cx="459.0" cy="207.7" r="1.8"/><circle cx="463.2" cy="207.7" r="1.8"/><circle cx="467.4" cy="207.7" r="1.8"/><circle cx="471.6" cy="207.7" r="1.8"/><circle cx="475.8" cy="207.7" r="1.8"/><circle cx="479.9" cy="207.7" r="1.8"/><circle cx="484.1" cy="207.7" r="1.8"/><circle cx="488.3" cy="207.7" r="1.8"/><circle cx="492.4" cy="207.7" r="1.8"/><circle cx="496.6" cy="207.7" r="1.8"/><circle cx="500.8" cy="207.7" r="1.8"/><circle cx="505.0" cy="207.7" r="1.8"/><circle cx="509.1" cy="207.7" r="1.8"/></g>
</g>
<rect x="64.5" y="2.4" width="444.5" height="320.1" fill="none" stroke="#222" stroke-width="1.2"/>
<text x="58.0" y="315.5" text-anchor="end">0.0</text>
<text x="58.0" y="265.4" text-anchor="end">0.5</text>
<text x="58.0" y="215.3" text-anchor="end">1.0</text>
<text x="58.0" y="165.2" text-anchor="end">1.5</text>
<text x="58.0" y="115.1" text-anchor="end">2.0</text>
<text x="58.0" y="65.0" text-anchor="end">2.5</text>
<text x="58.0" y="14.9" text-anchor="end">3.0</text>
<text x="64.5" y="343.5" text-anchor="middle">0</text>
<text x="153.4" y="343.5" text-anchor="middle">2</text>
<text x="242.3" y="343.5" text-anchor="middle">4</text>
<text x="331.2" y="343.5" text-anchor="middle">6</text>
<text x="420.1" y="343.5" text-anchor="middle">8</text>
<text x="509.0" y="343.5" text-anchor="middle">10</text>
<path d="M61.1 307.9h3.4M61.1 257.8h3.4M61.1 207.7h3.4M61.1 157.6h3.4M61.1 107.5h3.4M61.1 57.4h3.4M61.1 7.3h3.4M64.5 322.5v3.4M153.4 322.5v3.4M242.3 322.5v3.4M331.2 322.5v3.4M420.1 322.5v3.4M509.0 322.5v3.4" stroke="#222" stroke-width="1.1"/>
<text x="286.75" y="374.2" text-anchor="middle" letter-spacing="-0.15">Radial distance, <tspan font-style="italic">r</tspan> / Å</text>
<text transform="translate(14.6,162.2) rotate(-90)" text-anchor="middle" letter-spacing="-0.15">Frequency / -</text>
<rect x="389.4" y="11.3" width="109.1" height="93.2" rx="4" ry="4" fill="#fff" fill-opacity="0.8" stroke="#ccc" stroke-width="1"/>
<path d="M396.7 27.7H437.1M417.1 18.2V37.2M413.3 18.2h7.6M413.3 37.2h7.6" stroke="#1f77b4" stroke-width="1.6" fill="none"/>
<circle cx="417.1" cy="27.7" r="2.1" fill="#1f77b4"/>
<text x="452.6" y="35.0" letter-spacing="0.35">O–O</text>
<path d="M396.7 56.7H437.1M417.1 47.2V66.2M413.3 47.2h7.6M413.3 66.2h7.6" stroke="#ff7f0e" stroke-width="1.6" fill="none"/>
<circle cx="417.1" cy="56.7" r="2.1" fill="#ff7f0e"/>
<text x="452.6" y="64.0" letter-spacing="0.35">O–H</text>
<path d="M396.7 85.7H437.1M417.1 76.2V95.2M413.3 76.2h7.6M413.3 95.2h7.6" stroke="#2ca02c" stroke-width="1.6" fill="none"/>
<circle cx="417.1" cy="85.7" r="2.1" fill="#2ca02c"/>
<text x="452.6" y="93.0" letter-spacing="0.35">H–H</text>
<text x="260" y="401.6" text-anchor="middle" font-family="'Liberation Serif', serif" font-size="18.5">(a)</text>
<clipPath id="clip431"><rect x="64.5" y="431.3" width="444.5" height="322.99999999999994"/></clipPath>
<g clip-path="url(#clip431)">
<polyline points="66.6,738.2 70.8,738.2 74.9,738.2 79.1,738.2 83.3,738.2 87.5,738.2 91.6,738.2 95.8,738.2 100.0,738.2 104.2,738.2 108.3,738.2 112.5,738.2 116.7,738.2 120.9,738.2 125.0,738.2 129.2,738.2 133.4,738.2 137.6,738.2 141.8,738.2 145.9,738.2 150.1,738.2 154.3,738.2 158.4,738.2 162.6,738.2 166.8,738.2 171.0,737.5 175.1,726.0 179.3,626.0 183.5,476.7 187.7,450.8 191.8,515.4 196.0,583.8 200.2,627.7 204.4,650.3 208.5,661.5 212.7,665.8 216.9,664.3 221.1,661.5 225.2,657.5 229.4,652.7 233.6,648.0 237.8,643.4 241.9,638.0 246.1,632.9 250.3,628.8 254.5,625.0 258.6,623.5 262.8,623.1 267.0,623.6 271.2,624.9 275.4,627.2 279.5,630.2 283.7,633.8 287.9,637.6 292.0,641.5 296.2,645.4 300.4,648.8 304.6,651.6 308.8,653.0 312.9,653.6 317.1,653.7 321.3,653.7 325.4,650.6 329.6,647.7 333.8,644.7 338.0,640.2 342.1,638.4 346.3,637.4 350.5,636.1 354.7,634.9 358.9,634.2 363.0,633.7 367.2,633.8 371.4,634.0 375.5,634.4 379.7,635.5 383.9,636.5 388.1,637.4 392.2,638.4 396.4,639.3 400.6,640.1 404.8,640.9 408.9,641.6 413.1,642.3 417.3,642.7 421.5,642.7 425.6,642.3 429.8,641.6 434.0,640.7 438.2,639.7 442.4,638.9 446.5,638.3 450.7,638.1 454.9,638.2 459.0,638.4 463.2,638.7 467.4,639.0 471.6,639.4 475.8,639.8 479.9,640.2 484.1,640.4 488.3,640.4 492.4,640.4 496.6,640.4 500.8,640.4 505.0,640.4 509.1,640.4" fill="none" stroke="#1f77b4" stroke-width="1.7" stroke-linejoin="round"/>
<path d="M64.5 738.2H170.6" stroke="#1f77b4" stroke-width="3.8"/>
<path d="M171.0 736.8V738.2M175.1 724.2V727.8M179.3 621.9V630.1M183.5 468.1V485.3M187.7 447.2V454.4M191.8 511.4V519.4M196.0 580.7V586.9M200.2 625.4V630.0M204.4 648.6V652.0M208.5 660.0V663.0M212.7 664.5V667.1M216.9 663.0V665.6M221.1 660.1V662.9M225.2 656.1V659.0M229.4 651.2V654.2M233.6 646.5V649.6M237.8 641.9V645.0M241.9 636.4V639.6M246.1 631.2V634.5M250.3 627.1V630.5M254.5 623.3V626.7M258.6 621.8V625.2M262.8 621.5V624.8M267.0 621.9V625.2M271.2 623.3V626.6M275.4 625.5V628.9M279.5 628.5V631.8M283.7 632.2V635.4M287.9 636.0V639.2M292.0 639.9V643.1M296.2 643.9V646.9M300.4 647.3V650.3M304.6 650.1V653.0M308.8 651.5V654.4M312.9 652.2V654.9M317.1 652.4V655.1M321.3 652.3V655.2M325.4 649.2V652.1M329.6 646.3V649.2M333.8 643.2V646.3M338.0 638.7V641.8M342.1 636.8V639.9M346.3 635.8V638.9M350.5 634.5V637.7M354.7 633.4V636.5M358.9 632.7V635.8M363.0 632.2V635.3M367.2 632.2V635.3M371.4 632.4V635.6M375.5 632.9V636.0M379.7 633.9V637.0M383.9 634.9V638.0M388.1 635.9V639.0M392.2 636.9V640.0M396.4 637.8V640.9M400.6 638.6V641.6M404.8 639.4V642.4M408.9 640.1V643.1M413.1 640.8V643.8M417.3 641.2V644.2M421.5 641.2V644.2M425.6 640.8V643.8M429.8 640.1V643.1M434.0 639.1V642.2M438.2 638.2V641.2M442.4 637.3V640.4M446.5 636.7V639.8M450.7 636.6V639.6M454.9 636.7V639.7M459.0 636.9V640.0M463.2 637.2V640.2M467.4 637.5V640.5M471.6 637.9V640.9M475.8 638.3V641.3M479.9 638.7V641.7M484.1 638.9V641.9M488.3 638.9V641.9M492.4 638.9V641.9M496.6 638.9V641.9M500.8 638.9V641.9M505.0 638.9V641.9M509.1 638.9V641.9" stroke="#1f77b4" stroke-width="1.5" fill="none"/>
<path d="M167.2 736.8h7.6M167.2 738.2h7.6M171.3 724.2h7.6M171.3 727.8h7.6M175.5 621.9h7.6M175.5 630.1h7.6M179.7 468.1h7.6M179.7 485.3h7.6M183.9 447.2h7.6M183.9 454.4h7.6M188.0 511.4h7.6M188.0 519.4h7.6M192.2 580.7h7.6M192.2 586.9h7.6M196.4 625.4h7.6M196.4 630.0h7.6M200.6 648.6h7.6M200.6 652.0h7.6M204.7 660.0h7.6M204.7 663.0h7.6M208.9 664.5h7.6M208.9 667.1h7.6M213.1 663.0h7.6M213.1 665.6h7.6M217.3 660.1h7.6M217.3 662.9h7.6M221.4 656.1h7.6M221.4 659.0h7.6M225.6 651.2h7.6M225.6 654.2h7.6M229.8 646.5h7.6M229.8 649.6h7.6M234.0 641.9h7.6M234.0 645.0h7.6M238.1 636.4h7.6M238.1 639.6h7.6M242.3 631.2h7.6M242.3 634.5h7.6M246.5 627.1h7.6M246.5 630.5h7.6M250.7 623.3h7.6M250.7 626.7h7.6M254.8 621.8h7.6M254.8 625.2h7.6M259.0 621.5h7.6M259.0 624.8h7.6M263.2 621.9h7.6M263.2 625.2h7.6M267.4 623.3h7.6M267.4 626.6h7.6M271.6 625.5h7.6M271.6 628.9h7.6M275.7 628.5h7.6M275.7 631.8h7.6M279.9 632.2h7.6M279.9 635.4h7.6M284.1 636.0h7.6M284.1 639.2h7.6M288.2 639.9h7.6M288.2 643.1h7.6M292.4 643.9h7.6M292.4 646.9h7.6M296.6 647.3h7.6M296.6 650.3h7.6M300.8 650.1h7.6M300.8 653.0h7.6M304.9 651.5h7.6M304.9 654.4h7.6M309.1 652.2h7.6M309.1 654.9h7.6M313.3 652.4h7.6M313.3 655.1h7.6M317.5 652.3h7.6M317.5 655.2h7.6M321.6 649.2h7.6M321.6 652.1h7.6M325.8 646.3h7.6M325.8 649.2h7.6M330.0 643.2h7.6M330.0 646.3h7.6M334.2 638.7h7.6M334.2 641.8h7.6M338.3 636.8h7.6M338.3 639.9h7.6M342.5 635.8h7.6M342.5 638.9h7.6M346.7 634.5h7.6M346.7 637.7h7.6M350.9 633.4h7.6M350.9 636.5h7.6M355.1 632.7h7.6M355.1 635.8h7.6M359.2 632.2h7.6M359.2 635.3h7.6M363.4 632.2h7.6M363.4 635.3h7.6M367.6 632.4h7.6M367.6 635.6h7.6M371.7 632.9h7.6M371.7 636.0h7.6M375.9 633.9h7.6M375.9 637.0h7.6M380.1 634.9h7.6M380.1 638.0h7.6M384.3 635.9h7.6M384.3 639.0h7.6M388.4 636.9h7.6M388.4 640.0h7.6M392.6 637.8h7.6M392.6 640.9h7.6M396.8 638.6h7.6M396.8 641.6h7.6M401.0 639.4h7.6M401.0 642.4h7.6M405.1 640.1h7.6M405.1 643.1h7.6M409.3 640.8h7.6M409.3 643.8h7.6M413.5 641.2h7.6M413.5 644.2h7.6M417.7 641.2h7.6M417.7 644.2h7.6M421.8 640.8h7.6M421.8 643.8h7.6M426.0 640.1h7.6M426.0 643.1h7.6M430.2 639.1h7.6M430.2 642.2h7.6M434.4 638.2h7.6M434.4 641.2h7.6M438.6 637.3h7.6M438.6 640.4h7.6M442.7 636.7h7.6M442.7 639.8h7.6M446.9 636.6h7.6M446.9 639.6h7.6M451.1 636.7h7.6M451.1 639.7h7.6M455.2 636.9h7.6M455.2 640.0h7.6M459.4 637.2h7.6M459.4 640.2h7.6M463.6 637.5h7.6M463.6 640.5h7.6M467.8 637.9h7.6M467.8 640.9h7.6M471.9 638.3h7.6M471.9 641.3h7.6M476.1 638.7h7.6M476.1 641.7h7.6M480.3 638.9h7.6M480.3 641.9h7.6M484.5 638.9h7.6M484.5 641.9h7.6M488.6 638.9h7.6M488.6 641.9h7.6M492.8 638.9h7.6M492.8 641.9h7.6M497.0 638.9h7.6M497.0 641.9h7.6M501.2 638.9h7.6M501.2 641.9h7.6M505.3 638.9h7.6M505.3 641.9h7.6" stroke="#1f77b4" stroke-width="1.2" fill="none"/>
<g fill="#1f77b4"><circle cx="171.0" cy="737.5" r="1.8"/><circle cx="175.1" cy="726.0" r="1.8"/><circle cx="179.3" cy="626.0" r="1.8"/><circle cx="183.5" cy="476.7" r="1.8"/><circle cx="187.7" cy="450.8" r="1.8"/><circle cx="191.8" cy="515.4" r="1.8"/><circle cx="196.0" cy="583.8" r="1.8"/><circle cx="200.2" cy="627.7" r="1.8"/><circle cx="204.4" cy="650.3" r="1.8"/><circle cx="208.5" cy="661.5" r="1.8"/><circle cx="212.7" cy="665.8" r="1.8"/><circle cx="216.9" cy="664.3" r="1.8"/><circle cx="221.1" cy="661.5" r="1.8"/><circle cx="225.2" cy="657.5" r="1.8"/><circle cx="229.4" cy="652.7" r="1.8"/><circle cx="233.6" cy="648.0" r="1.8"/><circle cx="237.8" cy="643.4" r="1.8"/><circle cx="241.9" cy="638.0" r="1.8"/><circle cx="246.1" cy="632.9" r="1.8"/><circle cx="250.3" cy="628.8" r="1.8"/><circle cx="254.5" cy="625.0" r="1.8"/><circle cx="258.6" cy="623.5" r="1.8"/><circle cx="262.8" cy="623.1" r="1.8"/><circle cx="267.0" cy="623.6" r="1.8"/><circle cx="271.2" cy="624.9" r="1.8"/><circle cx="275.4" cy="627.2" r="1.8"/><circle cx="279.5" cy="630.2" r="1.8"/><circle cx="283.7" cy="633.8" r="1.8"/><circle cx="287.9" cy="637.6" r="1.8"/><circle cx="292.0" cy="641.5" r="1.8"/><circle cx="296.2" cy="645.4" r="1.8"/><circle cx="300.4" cy="648.8" r="1.8"/><circle cx="304.6" cy="651.6" r="1.8"/><circle cx="308.8" cy="653.0" r="1.8"/><circle cx="312.9" cy="653.6" r="1.8"/><circle cx="317.1" cy="653.7" r="1.8"/><circle cx="321.3" cy="653.7" r="1.8"/><circle cx="325.4" cy="650.6" r="1.8"/><circle cx="329.6" cy="647.7" r="1.8"/><circle cx="333.8" cy="644.7" r="1.8"/><circle cx="338.0" cy="640.2" r="1.8"/><circle cx="342.1" cy="638.4" r="1.8"/><circle cx="346.3" cy="637.4" r="1.8"/><circle cx="350.5" cy="636.1" r="1.8"/><circle cx="354.7" cy="634.9" r="1.8"/><circle cx="358.9" cy="634.2" r="1.8"/><circle cx="363.0" cy="633.7" r="1.8"/><circle cx="367.2" cy="633.8" r="1.8"/><circle cx="371.4" cy="634.0" r="1.8"/><circle cx="375.5" cy="634.4" r="1.8"/><circle cx="379.7" cy="635.5" r="1.8"/><circle cx="383.9" cy="636.5" r="1.8"/><circle cx="388.1" cy="637.4" r="1.8"/><circle cx="392.2" cy="638.4" r="1.8"/><circle cx="396.4" cy="639.3" r="1.8"/><circle cx="400.6" cy="640.1" r="1.8"/><circle cx="404.8" cy="640.9" r="1.8"/><circle cx="408.9" cy="641.6" r="1.8"/><circle cx="413.1" cy="642.3" r="1.8"/><circle cx="417.3" cy="642.7" r="1.8"/><circle cx="421.5" cy="642.7" r="1.8"/><circle cx="425.6" cy="642.3" r="1.8"/><circle cx="429.8" cy="641.6" r="1.8"/><circle cx="434.0" cy="640.7" r="1.8"/><circle cx="438.2" cy="639.7" r="1.8"/><circle cx="442.4" cy="638.9" r="1.8"/><circle cx="446.5" cy="638.3" r="1.8"/><circle cx="450.7" cy="638.1" r="1.8"/><circle cx="454.9" cy="638.2" r="1.8"/><circle cx="459.0" cy="638.4" r="1.8"/><circle cx="463.2" cy="638.7" r="1.8"/><circle cx="467.4" cy="639.0" r="1.8"/><circle cx="471.6" cy="639.4" r="1.8"/><circle cx="475.8" cy="639.8" r="1.8"/><circle cx="479.9" cy="640.2" r="1.8"/><circle cx="484.1" cy="640.4" r="1.8"/><circle cx="488.3" cy="640.4" r="1.8"/><circle cx="492.4" cy="640.4" r="1.8"/><circle cx="496.6" cy="640.4" r="1.8"/><circle cx="500.8" cy="640.4" r="1.8"/><circle cx="505.0" cy="640.4" r="1.8"/><circle cx="509.1" cy="640.4" r="1.8"/></g>
<polyline points="66.6,738.2 70.8,738.2 74.9,738.2 79.1,738.2 83.3,738.2 87.5,738.2 91.6,738.2 95.8,738.2 100.0,738.2 104.2,738.2 108.3,738.2 112.5,738.2 116.7,738.2 120.9,738.2 125.0,738.2 129.2,737.0 133.4,730.9 137.6,682.8 141.8,618.0 145.9,603.6 150.1,630.0 154.3,663.0 158.4,686.8 162.6,702.0 166.8,711.1 171.0,715.4 175.1,715.4 179.3,711.1 183.5,702.9 187.7,687.5 191.8,664.4 196.0,632.6 200.2,605.2 204.4,587.5 208.5,585.9 212.7,594.5 216.9,609.0 221.1,621.2 225.2,629.4 229.4,634.1 233.6,637.2 237.8,639.5 241.9,640.7 246.1,641.4 250.3,641.9 254.5,642.4 258.6,642.8 262.8,643.2 267.0,643.3 271.2,643.1 275.4,642.7 279.5,642.1 283.7,641.6 287.9,641.2 292.0,640.9 296.2,640.5 300.4,640.3 304.6,640.2 308.8,640.4 312.9,641.0 317.1,641.8 321.3,642.6 325.4,643.2 329.6,643.5 333.8,643.4 338.0,643.1 342.1,642.6 346.3,642.0 350.5,641.4 354.7,640.7 358.9,640.1 363.0,639.6 367.2,638.9 371.4,638.1 375.5,637.4 379.7,636.8 383.9,636.4 388.1,636.3 392.2,636.6 396.4,637.3 400.6,638.0 404.8,638.8 408.9,639.5 413.1,639.9 417.3,640.0 421.5,640.1 425.6,640.1 429.8,640.1 434.0,640.2 438.2,640.2 442.4,640.2 446.5,640.2 450.7,640.3 454.9,640.3 459.0,640.3 463.2,640.3 467.4,640.3 471.6,640.3 475.8,640.4 479.9,640.4 484.1,640.4 488.3,640.4 492.4,640.4 496.6,640.4 500.8,640.4 505.0,640.4 509.1,640.4" fill="none" stroke="#ff7f0e" stroke-width="1.7" stroke-linejoin="round"/>
<path d="M64.5 738.2H128.8" stroke="#ff7f0e" stroke-width="3.8"/>
<path d="M129.2 736.3V737.7M133.4 729.0V732.8M137.6 679.3V686.3M141.8 615.1V620.9M145.9 602.3V604.9M150.1 627.6V632.4M154.3 660.8V665.2M158.4 685.1V688.5M162.6 700.8V703.2M166.8 710.2V712.0M171.0 714.7V716.1M175.1 714.7V716.1M179.3 710.2V712.0M183.5 701.7V704.1M187.7 685.9V689.1M191.8 662.3V666.5M196.0 630.2V635.0M200.2 603.1V607.3M204.4 586.0V589.0M208.5 584.7V587.1M212.7 592.9V596.1M216.9 607.4V610.6M221.1 619.8V622.6M225.2 628.2V630.6M229.4 633.1V635.2M233.6 636.2V638.2M237.8 638.5V640.4M241.9 639.8V641.6M246.1 640.5V642.3M250.3 641.0V642.8M254.5 641.5V643.3M258.6 642.0V643.7M262.8 642.3V644.0M267.0 642.5V644.1M271.2 642.3V644.0M275.4 641.8V643.5M279.5 641.2V642.9M283.7 640.7V642.4M287.9 640.4V642.1M292.0 640.0V641.7M296.2 639.7V641.4M300.4 639.4V641.2M304.6 639.3V641.1M308.8 639.5V641.3M312.9 640.1V641.9M317.1 640.9V642.7M321.3 641.7V643.5M325.4 642.3V644.1M329.6 642.7V644.3M333.8 642.5V644.2M338.0 642.2V643.9M342.1 641.7V643.5M346.3 641.2V642.9M350.5 640.5V642.3M354.7 639.9V641.6M358.9 639.3V641.0M363.0 638.7V640.5M367.2 638.0V639.8M371.4 637.2V639.0M375.5 636.5V638.3M379.7 635.9V637.7M383.9 635.5V637.3M388.1 635.4V637.2M392.2 635.7V637.5M396.4 636.4V638.2M400.6 637.1V638.9M404.8 637.9V639.7M408.9 638.6V640.4M413.1 639.1V640.8M417.3 639.2V640.9M421.5 639.2V640.9M425.6 639.2V640.9M429.8 639.3V641.0M434.0 639.3V641.0M438.2 639.3V641.0M442.4 639.4V641.1M446.5 639.4V641.1M450.7 639.4V641.1M454.9 639.4V641.1M459.0 639.5V641.2M463.2 639.5V641.2M467.4 639.5V641.2M471.6 639.5V641.2M475.8 639.5V641.2M479.9 639.5V641.2M484.1 639.5V641.2M488.3 639.5V641.2M492.4 639.5V641.2M496.6 639.5V641.2M500.8 639.5V641.2M505.0 639.5V641.2M509.1 639.5V641.2" stroke="#ff7f0e" stroke-width="1.5" fill="none"/>
<path d="M125.4 736.3h7.6M125.4 737.7h7.6M129.6 729.0h7.6M129.6 732.8h7.6M133.8 679.3h7.6M133.8 686.3h7.6M137.9 615.1h7.6M137.9 620.9h7.6M142.1 602.3h7.6M142.1 604.9h7.6M146.3 627.6h7.6M146.3 632.4h7.6M150.5 660.8h7.6M150.5 665.2h7.6M154.6 685.1h7.6M154.6 688.5h7.6M158.8 700.8h7.6M158.8 703.2h7.6M163.0 710.2h7.6M163.0 712.0h7.6M167.2 714.7h7.6M167.2 716.1h7.6M171.3 714.7h7.6M171.3 716.1h7.6M175.5 710.2h7.6M175.5 712.0h7.6M179.7 701.7h7.6M179.7 704.1h7.6M183.9 685.9h7.6M183.9 689.1h7.6M188.0 662.3h7.6M188.0 666.5h7.6M192.2 630.2h7.6M192.2 635.0h7.6M196.4 603.1h7.6M196.4 607.3h7.6M200.6 586.0h7.6M200.6 589.0h7.6M204.7 584.7h7.6M204.7 587.1h7.6M208.9 592.9h7.6M208.9 596.1h7.6M213.1 607.4h7.6M213.1 610.6h7.6M217.3 619.8h7.6M217.3 622.6h7.6M221.4 628.2h7.6M221.4 630.6h7.6M225.6 633.1h7.6M225.6 635.2h7.6M229.8 636.2h7.6M229.8 638.2h7.6M234.0 638.5h7.6M234.0 640.4h7.6M238.1 639.8h7.6M238.1 641.6h7.6M242.3 640.5h7.6M242.3 642.3h7.6M246.5 641.0h7.6M246.5 642.8h7.6M250.7 641.5h7.6M250.7 643.3h7.6M254.8 642.0h7.6M254.8 643.7h7.6M259.0 642.3h7.6M259.0 644.0h7.6M263.2 642.5h7.6M263.2 644.1h7.6M267.4 642.3h7.6M267.4 644.0h7.6M271.6 641.8h7.6M271.6 643.5h7.6M275.7 641.2h7.6M275.7 642.9h7.6M279.9 640.7h7.6M279.9 642.4h7.6M284.1 640.4h7.6M284.1 642.1h7.6M288.2 640.0h7.6M288.2 641.7h7.6M292.4 639.7h7.6M292.4 641.4h7.6M296.6 639.4h7.6M296.6 641.2h7.6M300.8 639.3h7.6M300.8 641.1h7.6M304.9 639.5h7.6M304.9 641.3h7.6M309.1 640.1h7.6M309.1 641.9h7.6M313.3 640.9h7.6M313.3 642.7h7.6M317.5 641.7h7.6M317.5 643.5h7.6M321.6 642.3h7.6M321.6 644.1h7.6M325.8 642.7h7.6M325.8 644.3h7.6M330.0 642.5h7.6M330.0 644.2h7.6M334.2 642.2h7.6M334.2 643.9h7.6M338.3 641.7h7.6M338.3 643.5h7.6M342.5 641.2h7.6M342.5 642.9h7.6M346.7 640.5h7.6M346.7 642.3h7.6M350.9 639.9h7.6M350.9 641.6h7.6M355.1 639.3h7.6M355.1 641.0h7.6M359.2 638.7h7.6M359.2 640.5h7.6M363.4 638.0h7.6M363.4 639.8h7.6M367.6 637.2h7.6M367.6 639.0h7.6M371.7 636.5h7.6M371.7 638.3h7.6M375.9 635.9h7.6M375.9 637.7h7.6M380.1 635.5h7.6M380.1 637.3h7.6M384.3 635.4h7.6M384.3 637.2h7.6M388.4 635.7h7.6M388.4 637.5h7.6M392.6 636.4h7.6M392.6 638.2h7.6M396.8 637.1h7.6M396.8 638.9h7.6M401.0 637.9h7.6M401.0 639.7h7.6M405.1 638.6h7.6M405.1 640.4h7.6M409.3 639.1h7.6M409.3 640.8h7.6M413.5 639.2h7.6M413.5 640.9h7.6M417.7 639.2h7.6M417.7 640.9h7.6M421.8 639.2h7.6M421.8 640.9h7.6M426.0 639.3h7.6M426.0 641.0h7.6M430.2 639.3h7.6M430.2 641.0h7.6M434.4 639.3h7.6M434.4 641.0h7.6M438.6 639.4h7.6M438.6 641.1h7.6M442.7 639.4h7.6M442.7 641.1h7.6M446.9 639.4h7.6M446.9 641.1h7.6M451.1 639.4h7.6M451.1 641.1h7.6M455.2 639.5h7.6M455.2 641.2h7.6M459.4 639.5h7.6M459.4 641.2h7.6M463.6 639.5h7.6M463.6 641.2h7.6M467.8 639.5h7.6M467.8 641.2h7.6M471.9 639.5h7.6M471.9 641.2h7.6M476.1 639.5h7.6M476.1 641.2h7.6M480.3 639.5h7.6M480.3 641.2h7.6M484.5 639.5h7.6M484.5 641.2h7.6M488.6 639.5h7.6M488.6 641.2h7.6M492.8 639.5h7.6M492.8 641.2h7.6M497.0 639.5h7.6M497.0 641.2h7.6M501.2 639.5h7.6M501.2 641.2h7.6M505.3 639.5h7.6M505.3 641.2h7.6" stroke="#ff7f0e" stroke-width="1.2" fill="none"/>
<g fill="#ff7f0e"><circle cx="129.2" cy="737.0" r="1.8"/><circle cx="133.4" cy="730.9" r="1.8"/><circle cx="137.6" cy="682.8" r="1.8"/><circle cx="141.8" cy="618.0" r="1.8"/><circle cx="145.9" cy="603.6" r="1.8"/><circle cx="150.1" cy="630.0" r="1.8"/><circle cx="154.3" cy="663.0" r="1.8"/><circle cx="158.4" cy="686.8" r="1.8"/><circle cx="162.6" cy="702.0" r="1.8"/><circle cx="166.8" cy="711.1" r="1.8"/><circle cx="171.0" cy="715.4" r="1.8"/><circle cx="175.1" cy="715.4" r="1.8"/><circle cx="179.3" cy="711.1" r="1.8"/><circle cx="183.5" cy="702.9" r="1.8"/><circle cx="187.7" cy="687.5" r="1.8"/><circle cx="191.8" cy="664.4" r="1.8"/><circle cx="196.0" cy="632.6" r="1.8"/><circle cx="200.2" cy="605.2" r="1.8"/><circle cx="204.4" cy="587.5" r="1.8"/><circle cx="208.5" cy="585.9" r="1.8"/><circle cx="212.7" cy="594.5" r="1.8"/><circle cx="216.9" cy="609.0" r="1.8"/><circle cx="221.1" cy="621.2" r="1.8"/><circle cx="225.2" cy="629.4" r="1.8"/><circle cx="229.4" cy="634.1" r="1.8"/><circle cx="233.6" cy="637.2" r="1.8"/><circle cx="237.8" cy="639.5" r="1.8"/><circle cx="241.9" cy="640.7" r="1.8"/><circle cx="246.1" cy="641.4" r="1.8"/><circle cx="250.3" cy="641.9" r="1.8"/><circle cx="254.5" cy="642.4" r="1.8"/><circle cx="258.6" cy="642.8" r="1.8"/><circle cx="262.8" cy="643.2" r="1.8"/><circle cx="267.0" cy="643.3" r="1.8"/><circle cx="271.2" cy="643.1" r="1.8"/><circle cx="275.4" cy="642.7" r="1.8"/><circle cx="279.5" cy="642.1" r="1.8"/><circle cx="283.7" cy="641.6" r="1.8"/><circle cx="287.9" cy="641.2" r="1.8"/><circle cx="292.0" cy="640.9" r="1.8"/><circle cx="296.2" cy="640.5" r="1.8"/><circle cx="300.4" cy="640.3" r="1.8"/><circle cx="304.6" cy="640.2" r="1.8"/><circle cx="308.8" cy="640.4" r="1.8"/><circle cx="312.9" cy="641.0" r="1.8"/><circle cx="317.1" cy="641.8" r="1.8"/><circle cx="321.3" cy="642.6" r="1.8"/><circle cx="325.4" cy="643.2" r="1.8"/><circle cx="329.6" cy="643.5" r="1.8"/><circle cx="333.8" cy="643.4" r="1.8"/><circle cx="338.0" cy="643.1" r="1.8"/><circle cx="342.1" cy="642.6" r="1.8"/><circle cx="346.3" cy="642.0" r="1.8"/><circle cx="350.5" cy="641.4" r="1.8"/><circle cx="354.7" cy="640.7" r="1.8"/><circle cx="358.9" cy="640.1" r="1.8"/><circle cx="363.0" cy="639.6" r="1.8"/><circle cx="367.2" cy="638.9" r="1.8"/><circle cx="371.4" cy="638.1" r="1.8"/><circle cx="375.5" cy="637.4" r="1.8"/><circle cx="379.7" cy="636.8" r="1.8"/><circle cx="383.9" cy="636.4" r="1.8"/><circle cx="388.1" cy="636.3" r="1.8"/><circle cx="392.2" cy="636.6" r="1.8"/><circle cx="396.4" cy="637.3" r="1.8"/><circle cx="400.6" cy="638.0" r="1.8"/><circle cx="404.8" cy="638.8" r="1.8"/><circle cx="408.9" cy="639.5" r="1.8"/><circle cx="413.1" cy="639.9" r="1.8"/><circle cx="417.3" cy="640.0" r="1.8"/><circle cx="421.5" cy="640.1" r="1.8"/><circle cx="425.6" cy="640.1" r="1.8"/><circle cx="429.8" cy="640.1" r="1.8"/><circle cx="434.0" cy="640.2" r="1.8"/><circle cx="438.2" cy="640.2" r="1.8"/><circle cx="442.4" cy="640.2" r="1.8"/><circle cx="446.5" cy="640.2" r="1.8"/><circle cx="450.7" cy="640.3" r="1.8"/><circle cx="454.9" cy="640.3" r="1.8"/><circle cx="459.0" cy="640.3" r="1.8"/><circle cx="463.2" cy="640.3" r="1.8"/><circle cx="467.4" cy="640.3" r="1.8"/><circle cx="471.6" cy="640.3" r="1.8"/><circle cx="475.8" cy="640.4" r="1.8"/><circle cx="479.9" cy="640.4" r="1.8"/><circle cx="484.1" cy="640.4" r="1.8"/><circle cx="488.3" cy="640.4" r="1.8"/><circle cx="492.4" cy="640.4" r="1.8"/><circle cx="496.6" cy="640.4" r="1.8"/><circle cx="500.8" cy="640.4" r="1.8"/><circle cx="505.0" cy="640.4" r="1.8"/><circle cx="509.1" cy="640.4" r="1.8"/></g>
<polyline points="66.6,738.2 70.8,738.2 74.9,738.2 79.1,738.2 83.3,738.2 87.5,738.2 91.6,738.2 95.8,738.2 100.0,738.2 104.2,738.2 108.3,738.2 112.5,738.2 116.7,738.2 120.9,738.2 125.0,738.2 129.2,738.2 133.4,738.2 137.6,737.8 141.8,736.5 145.9,732.0 150.1,723.5 154.3,704.3 158.4,668.7 162.6,624.2 166.8,594.0 171.0,590.1 175.1,606.3 179.3,627.2 183.5,645.5 187.7,658.3 191.8,664.2 196.0,664.8 200.2,662.6 204.4,657.3 208.5,651.0 212.7,643.5 216.9,634.4 221.1,628.3 225.2,625.8 229.4,625.5 233.6,628.2 237.8,631.7 241.9,634.6 246.1,636.7 250.3,637.4 254.5,637.6 258.6,637.3 262.8,636.7 267.0,636.3 271.2,636.7 275.4,637.9 279.5,639.2 283.7,640.3 287.9,640.8 292.0,641.4 296.2,641.9 300.4,642.3 304.6,642.6 308.8,642.7 312.9,642.7 317.1,642.6 321.3,642.5 325.4,642.4 329.6,642.3 333.8,642.2 338.0,642.0 342.1,641.8 346.3,641.5 350.5,641.2 354.7,641.0 358.9,640.7 363.0,640.4 367.2,640.0 371.4,639.6 375.5,639.2 379.7,638.9 383.9,638.8 388.1,638.8 392.2,639.0 396.4,639.2 400.6,639.5 404.8,639.9 408.9,640.2 413.1,640.4 417.3,640.6 421.5,640.6 425.6,640.6 429.8,640.6 434.0,640.6 438.2,640.6 442.4,640.6 446.5,640.6 450.7,640.6 454.9,640.6 459.0,640.6 463.2,640.6 467.4,640.6 471.6,640.6 475.8,640.6 479.9,640.6 484.1,640.6 488.3,640.6 492.4,640.6 496.6,640.6 500.8,640.6 505.0,640.6 509.1,640.6" fill="none" stroke="#2ca02c" stroke-width="1.7" stroke-linejoin="round"/>
<path d="M64.5 738.2H141.4" stroke="#2ca02c" stroke-width="3.8"/>
<path d="M141.8 735.8V737.2M145.9 731.2V732.8M150.1 722.3V724.7M154.3 702.3V706.3M158.4 665.9V671.5M162.6 621.4V627.0M166.8 592.1V595.9M171.0 588.8V591.4M175.1 604.4V608.2M179.3 625.3V629.1M183.5 643.9V647.1M187.7 657.0V659.6M191.8 663.3V665.1M196.0 664.0V665.6M200.2 661.6V663.6M204.4 656.2V658.4M208.5 649.8V652.2M212.7 642.2V644.8M216.9 633.2V635.7M221.1 627.2V629.4M225.2 624.8V626.7M229.4 624.5V626.4M233.6 627.2V629.3M237.8 630.6V632.7M241.9 633.6V635.6M246.1 635.8V637.7M250.3 636.5V638.2M254.5 636.7V638.5M258.6 636.4V638.2M262.8 635.8V637.6M267.0 635.4V637.2M271.2 635.8V637.6M275.4 636.9V638.8M279.5 638.3V640.1M283.7 639.4V641.2M287.9 640.0V641.7M292.0 640.5V642.3M296.2 641.0V642.7M300.4 641.4V643.1M304.6 641.7V643.4M308.8 641.8V643.5M312.9 641.8V643.5M317.1 641.8V643.5M321.3 641.7V643.4M325.4 641.6V643.3M329.6 641.5V643.2M333.8 641.3V643.0M338.0 641.1V642.8M342.1 640.9V642.6M346.3 640.6V642.4M350.5 640.4V642.1M354.7 640.1V641.8M358.9 639.8V641.5M363.0 639.5V641.2M367.2 639.1V640.9M371.4 638.7V640.5M375.5 638.3V640.1M379.7 638.0V639.8M383.9 637.9V639.6M388.1 637.9V639.7M392.2 638.1V639.8M396.4 638.3V640.1M400.6 638.7V640.4M404.8 639.0V640.7M408.9 639.3V641.0M413.1 639.6V641.3M417.3 639.7V641.4M421.5 639.7V641.5M425.6 639.8V641.4M429.8 639.8V641.4M434.0 639.8V641.4M438.2 639.8V641.4M442.4 639.8V641.4M446.5 639.8V641.4M450.7 639.8V641.4M454.9 639.8V641.4M459.0 639.8V641.4M463.2 639.8V641.4M467.4 639.8V641.4M471.6 639.8V641.4M475.8 639.8V641.4M479.9 639.8V641.4M484.1 639.8V641.4M488.3 639.8V641.4M492.4 639.8V641.4M496.6 639.8V641.4M500.8 639.8V641.4M505.0 639.8V641.4M509.1 639.8V641.4" stroke="#2ca02c" stroke-width="1.5" fill="none"/>
<path d="M137.9 735.8h7.6M137.9 737.2h7.6M142.1 731.2h7.6M142.1 732.8h7.6M146.3 722.3h7.6M146.3 724.7h7.6M150.5 702.3h7.6M150.5 706.3h7.6M154.6 665.9h7.6M154.6 671.5h7.6M158.8 621.4h7.6M158.8 627.0h7.6M163.0 592.1h7.6M163.0 595.9h7.6M167.2 588.8h7.6M167.2 591.4h7.6M171.3 604.4h7.6M171.3 608.2h7.6M175.5 625.3h7.6M175.5 629.1h7.6M179.7 643.9h7.6M179.7 647.1h7.6M183.9 657.0h7.6M183.9 659.6h7.6M188.0 663.3h7.6M188.0 665.1h7.6M192.2 664.0h7.6M192.2 665.6h7.6M196.4 661.6h7.6M196.4 663.6h7.6M200.6 656.2h7.6M200.6 658.4h7.6M204.7 649.8h7.6M204.7 652.2h7.6M208.9 642.2h7.6M208.9 644.8h7.6M213.1 633.2h7.6M213.1 635.7h7.6M217.3 627.2h7.6M217.3 629.4h7.6M221.4 624.8h7.6M221.4 626.7h7.6M225.6 624.5h7.6M225.6 626.4h7.6M229.8 627.2h7.6M229.8 629.3h7.6M234.0 630.6h7.6M234.0 632.7h7.6M238.1 633.6h7.6M238.1 635.6h7.6M242.3 635.8h7.6M242.3 637.7h7.6M246.5 636.5h7.6M246.5 638.2h7.6M250.7 636.7h7.6M250.7 638.5h7.6M254.8 636.4h7.6M254.8 638.2h7.6M259.0 635.8h7.6M259.0 637.6h7.6M263.2 635.4h7.6M263.2 637.2h7.6M267.4 635.8h7.6M267.4 637.6h7.6M271.6 636.9h7.6M271.6 638.8h7.6M275.7 638.3h7.6M275.7 640.1h7.6M279.9 639.4h7.6M279.9 641.2h7.6M284.1 640.0h7.6M284.1 641.7h7.6M288.2 640.5h7.6M288.2 642.3h7.6M292.4 641.0h7.6M292.4 642.7h7.6M296.6 641.4h7.6M296.6 643.1h7.6M300.8 641.7h7.6M300.8 643.4h7.6M304.9 641.8h7.6M304.9 643.5h7.6M309.1 641.8h7.6M309.1 643.5h7.6M313.3 641.8h7.6M313.3 643.5h7.6M317.5 641.7h7.6M317.5 643.4h7.6M321.6 641.6h7.6M321.6 643.3h7.6M325.8 641.5h7.6M325.8 643.2h7.6M330.0 641.3h7.6M330.0 643.0h7.6M334.2 641.1h7.6M334.2 642.8h7.6M338.3 640.9h7.6M338.3 642.6h7.6M342.5 640.6h7.6M342.5 642.4h7.6M346.7 640.4h7.6M346.7 642.1h7.6M350.9 640.1h7.6M350.9 641.8h7.6M355.1 639.8h7.6M355.1 641.5h7.6M359.2 639.5h7.6M359.2 641.2h7.6M363.4 639.1h7.6M363.4 640.9h7.6M367.6 638.7h7.6M367.6 640.5h7.6M371.7 638.3h7.6M371.7 640.1h7.6M375.9 638.0h7.6M375.9 639.8h7.6M380.1 637.9h7.6M380.1 639.6h7.6M384.3 637.9h7.6M384.3 639.7h7.6M388.4 638.1h7.6M388.4 639.8h7.6M392.6 638.3h7.6M392.6 640.1h7.6M396.8 638.7h7.6M396.8 640.4h7.6M401.0 639.0h7.6M401.0 640.7h7.6M405.1 639.3h7.6M405.1 641.0h7.6M409.3 639.6h7.6M409.3 641.3h7.6M413.5 639.7h7.6M413.5 641.4h7.6M417.7 639.7h7.6M417.7 641.5h7.6M421.8 639.8h7.6M421.8 641.4h7.6M426.0 639.8h7.6M426.0 641.4h7.6M430.2 639.8h7.6M430.2 641.4h7.6M434.4 639.8h7.6M434.4 641.4h7.6M438.6 639.8h7.6M438.6 641.4h7.6M442.7 639.8h7.6M442.7 641.4h7.6M446.9 639.8h7.6M446.9 641.4h7.6M451.1 639.8h7.6M451.1 641.4h7.6M455.2 639.8h7.6M455.2 641.4h7.6M459.4 639.8h7.6M459.4 641.4h7.6M463.6 639.8h7.6M463.6 641.4h7.6M467.8 639.8h7.6M467.8 641.4h7.6M471.9 639.8h7.6M471.9 641.4h7.6M476.1 639.8h7.6M476.1 641.4h7.6M480.3 639.8h7.6M480.3 641.4h7.6M484.5 639.8h7.6M484.5 641.4h7.6M488.6 639.8h7.6M488.6 641.4h7.6M492.8 639.8h7.6M492.8 641.4h7.6M497.0 639.8h7.6M497.0 641.4h7.6M501.2 639.8h7.6M501.2 641.4h7.6M505.3 639.8h7.6M505.3 641.4h7.6" stroke="#2ca02c" stroke-width="1.2" fill="none"/>
<g fill="#2ca02c"><circle cx="141.8" cy="736.5" r="1.8"/><circle cx="145.9" cy="732.0" r="1.8"/><circle cx="150.1" cy="723.5" r="1.8"/><circle cx="154.3" cy="704.3" r="1.8"/><circle cx="158.4" cy="668.7" r="1.8"/><circle cx="162.6" cy="624.2" r="1.8"/><circle cx="166.8" cy="594.0" r="1.8"/><circle cx="171.0" cy="590.1" r="1.8"/><circle cx="175.1" cy="606.3" r="1.8"/><circle cx="179.3" cy="627.2" r="1.8"/><circle cx="183.5" cy="645.5" r="1.8"/><circle cx="187.7" cy="658.3" r="1.8"/><circle cx="191.8" cy="664.2" r="1.8"/><circle cx="196.0" cy="664.8" r="1.8"/><circle cx="200.2" cy="662.6" r="1.8"/><circle cx="204.4" cy="657.3" r="1.8"/><circle cx="208.5" cy="651.0" r="1.8"/><circle cx="212.7" cy="643.5" r="1.8"/><circle cx="216.9" cy="634.4" r="1.8"/><circle cx="221.1" cy="628.3" r="1.8"/><circle cx="225.2" cy="625.8" r="1.8"/><circle cx="229.4" cy="625.5" r="1.8"/><circle cx="233.6" cy="628.2" r="1.8"/><circle cx="237.8" cy="631.7" r="1.8"/><circle cx="241.9" cy="634.6" r="1.8"/><circle cx="246.1" cy="636.7" r="1.8"/><circle cx="250.3" cy="637.4" r="1.8"/><circle cx="254.5" cy="637.6" r="1.8"/><circle cx="258.6" cy="637.3" r="1.8"/><circle cx="262.8" cy="636.7" r="1.8"/><circle cx="267.0" cy="636.3" r="1.8"/><circle cx="271.2" cy="636.7" r="1.8"/><circle cx="275.4" cy="637.9" r="1.8"/><circle cx="279.5" cy="639.2" r="1.8"/><circle cx="283.7" cy="640.3" r="1.8"/><circle cx="287.9" cy="640.8" r="1.8"/><circle cx="292.0" cy="641.4" r="1.8"/><circle cx="296.2" cy="641.9" r="1.8"/><circle cx="300.4" cy="642.3" r="1.8"/><circle cx="304.6" cy="642.6" r="1.8"/><circle cx="308.8" cy="642.7" r="1.8"/><circle cx="312.9" cy="642.7" r="1.8"/><circle cx="317.1" cy="642.6" r="1.8"/><circle cx="321.3" cy="642.5" r="1.8"/><circle cx="325.4" cy="642.4" r="1.8"/><circle cx="329.6" cy="642.3" r="1.8"/><circle cx="333.8" cy="642.2" r="1.8"/><circle cx="338.0" cy="642.0" r="1.8"/><circle cx="342.1" cy="641.8" r="1.8"/><circle cx="346.3" cy="641.5" r="1.8"/><circle cx="350.5" cy="641.2" r="1.8"/><circle cx="354.7" cy="641.0" r="1.8"/><circle cx="358.9" cy="640.7" r="1.8"/><circle cx="363.0" cy="640.4" r="1.8"/><circle cx="367.2" cy="640.0" r="1.8"/><circle cx="371.4" cy="639.6" r="1.8"/><circle cx="375.5" cy="639.2" r="1.8"/><circle cx="379.7" cy="638.9" r="1.8"/><circle cx="383.9" cy="638.8" r="1.8"/><circle cx="388.1" cy="638.8" r="1.8"/><circle cx="392.2" cy="639.0" r="1.8"/><circle cx="396.4" cy="639.2" r="1.8"/><circle cx="400.6" cy="639.5" r="1.8"/><circle cx="404.8" cy="639.9" r="1.8"/><circle cx="408.9" cy="640.2" r="1.8"/><circle cx="413.1" cy="640.4" r="1.8"/><circle cx="417.3" cy="640.6" r="1.8"/><circle cx="421.5" cy="640.6" r="1.8"/><circle cx="425.6" cy="640.6" r="1.8"/><circle cx="429.8" cy="640.6" r="1.8"/><circle cx="434.0" cy="640.6" r="1.8"/><circle cx="438.2" cy="640.6" r="1.8"/><circle cx="442.4" cy="640.6" r="1.8"/><circle cx="446.5" cy="640.6" r="1.8"/><circle cx="450.7" cy="640.6" r="1.8"/><circle cx="454.9" cy="640.6" r="1.8"/><circle cx="459.0" cy="640.6" r="1.8"/><circle cx="463.2" cy="640.6" r="1.8"/><circle cx="467.4" cy="640.6" r="1.8"/><circle cx="471.6" cy="640.6" r="1.8"/><circle cx="475.8" cy="640.6" r="1.8"/><circle cx="479.9" cy="640.6" r="1.8"/><circle cx="484.1" cy="640.6" r="1.8"/><circle cx="488.3" cy="640.6" r="1.8"/><circle cx="492.4" cy="640.6" r="1.8"/><circle cx="496.6" cy="640.6" r="1.8"/><circle cx="500.8" cy="640.6" r="1.8"/><circle cx="505.0" cy="640.6" r="1.8"/><circle cx="509.1" cy="640.6" r="1.8"/></g>
</g>
<rect x="64.5" y="431.3" width="444.5" height="322.99999999999994" fill="none" stroke="#222" stroke-width="1.2"/>
<text x="58.0" y="745.8" text-anchor="end">0.0</text>
<text x="58.0" y="696.9" text-anchor="end">0.5</text>
<text x="58.0" y="648.0" text-anchor="end">1.0</text>
<text x="58.0" y="599.1" text-anchor="end">1.5</text>
<text x="58.0" y="550.2" text-anchor="end">2.0</text>
<text x="58.0" y="501.3" text-anchor="end">2.5</text>
<text x="58.0" y="452.4" text-anchor="end">3.0</text>
<text x="64.5" y="775.3" text-anchor="middle">0</text>
<text x="153.4" y="775.3" text-anchor="middle">2</text>
<text x="242.3" y="775.3" text-anchor="middle">4</text>
<text x="331.2" y="775.3" text-anchor="middle">6</text>
<text x="420.1" y="775.3" text-anchor="middle">8</text>
<text x="509.0" y="775.3" text-anchor="middle">10</text>
<path d="M61.1 738.2h3.4M61.1 689.3h3.4M61.1 640.4h3.4M61.1 591.5h3.4M61.1 542.6h3.4M61.1 493.7h3.4M61.1 444.8h3.4M64.5 754.3v3.4M153.4 754.3v3.4M242.3 754.3v3.4M331.2 754.3v3.4M420.1 754.3v3.4M509.0 754.3v3.4" stroke="#222" stroke-width="1.1"/>
<text x="286.75" y="806.0" text-anchor="middle" letter-spacing="-0.15">Radial distance, <tspan font-style="italic">r</tspan> / Å</text>
<text transform="translate(14.6,592.5) rotate(-90)" text-anchor="middle" letter-spacing="-0.15">Frequency / -</text>
<rect x="389.4" y="440.8" width="109.1" height="93.2" rx="4" ry="4" fill="#fff" fill-opacity="0.8" stroke="#ccc" stroke-width="1"/>
<path d="M396.7 457.2H437.1M417.1 447.7V466.7M413.3 447.7h7.6M413.3 466.7h7.6" stroke="#1f77b4" stroke-width="1.6" fill="none"/>
<circle cx="417.1" cy="457.2" r="2.1" fill="#1f77b4"/>
<text x="452.6" y="464.5" letter-spacing="0.35">O–O</text>
<path d="M396.7 486.2H437.1M417.1 476.7V495.7M413.3 476.7h7.6M413.3 495.7h7.6" stroke="#ff7f0e" stroke-width="1.6" fill="none"/>
<circle cx="417.1" cy="486.2" r="2.1" fill="#ff7f0e"/>
<text x="452.6" y="493.5" letter-spacing="0.35">O–H</text>
<path d="M396.7 515.2H437.1M417.1 505.7V524.7M413.3 505.7h7.6M413.3 524.7h7.6" stroke="#2ca02c" stroke-width="1.6" fill="none"/>
<circle cx="417.1" cy="515.2" r="2.1" fill="#2ca02c"/>
<text x="452.6" y="522.5" letter-spacing="0.35">H–H</text>
<text x="260" y="835.5" text-anchor="middle" font-family="'Liberation Serif', serif" font-size="18.5">(b)</text>
</svg>
</body></html>
